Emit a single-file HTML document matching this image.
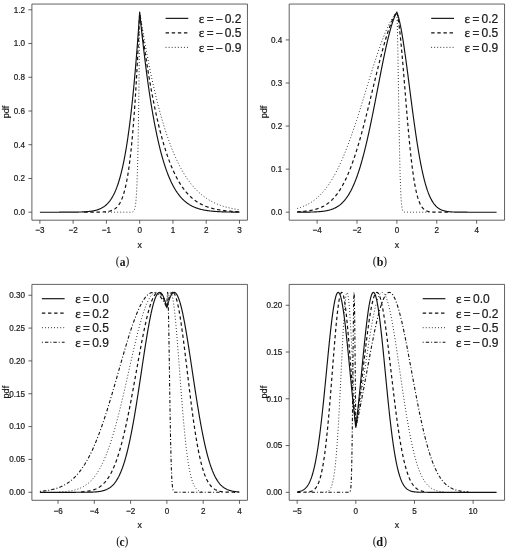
<!DOCTYPE html>
<html lang="en"><head><meta charset="utf-8"><title>Epsilon-skew pdf plots</title>
<style>html,body{margin:0;padding:0;background:#fff}svg{display:block}</style></head>
<body>
<svg width="507" height="550" viewBox="0 0 507 550">
<rect width="507" height="550" fill="#fff"/>
<g>
<path d="M39.88 212.20 L40.33 212.20 L40.79 212.20 L41.24 212.20 L41.69 212.20 L42.15 212.20 L42.60 212.20 L43.06 212.20 L43.51 212.20 L43.96 212.20 L44.42 212.20 L44.87 212.20 L45.32 212.20 L45.78 212.20 L46.23 212.20 L46.68 212.20 L47.14 212.20 L47.59 212.20 L48.05 212.20 L48.50 212.20 L48.95 212.20 L49.41 212.20 L49.86 212.20 L50.31 212.20 L50.77 212.20 L51.22 212.20 L51.67 212.20 L52.13 212.20 L52.58 212.20 L53.03 212.20 L53.49 212.20 L53.94 212.20 L54.40 212.20 L54.85 212.20 L55.30 212.20 L55.76 212.20 L56.21 212.20 L56.51 212.20 L56.66 212.20 L57.12 212.20 L57.21 212.20 L57.57 212.20 L57.90 212.20 L58.02 212.20 L58.48 212.20 L58.59 212.20 L58.93 212.20 L59.28 212.20 L59.39 212.19 L59.84 212.19 L59.98 212.19 L60.29 212.19 L60.67 212.19 L60.75 212.19 L61.20 212.19 L61.36 212.19 L61.65 212.19 L62.06 212.19 L62.11 212.19 L62.56 212.19 L62.75 212.19 L63.01 212.19 L63.44 212.19 L63.47 212.19 L63.92 212.19 L64.14 212.19 L64.38 212.19 L64.83 212.19 L65.28 212.18 L65.52 212.18 L65.74 212.18 L66.19 212.18 L66.21 212.18 L66.64 212.18 L66.91 212.18 L67.10 212.18 L67.55 212.18 L67.60 212.18 L68.00 212.18 L68.29 212.17 L68.46 212.17 L68.91 212.17 L68.99 212.17 L69.36 212.17 L69.68 212.17 L69.82 212.17 L70.27 212.16 L70.37 212.16 L70.73 212.16 L71.07 212.16 L71.18 212.16 L71.63 212.15 L71.76 212.15 L72.09 212.15 L72.45 212.15 L72.54 212.15 L72.99 212.14 L73.14 212.14 L73.45 212.14 L73.84 212.13 L73.90 212.13 L74.35 212.13 L74.53 212.13 L74.81 212.12 L75.22 212.12 L75.26 212.12 L75.72 212.11 L75.92 212.11 L76.17 212.10 L76.61 212.09 L76.62 212.09 L77.08 212.09 L77.30 212.08 L77.53 212.08 L77.98 212.07 L78.00 212.07 L78.44 212.06 L78.69 212.05 L78.89 212.05 L79.34 212.04 L79.38 212.03 L79.80 212.02 L80.08 212.02 L80.25 212.01 L80.71 212.00 L80.77 211.99 L81.16 211.98 L81.46 211.97 L81.61 211.96 L82.07 211.95 L82.15 211.94 L82.52 211.93 L82.85 211.91 L82.97 211.91 L83.43 211.89 L83.54 211.88 L83.88 211.86 L84.23 211.85 L84.33 211.84 L84.79 211.81 L84.93 211.81 L85.24 211.79 L85.62 211.76 L85.69 211.76 L86.15 211.73 L86.31 211.71 L86.45 211.70 L86.60 211.69 L87.01 211.66 L87.06 211.66 L87.51 211.62 L87.70 211.60 L87.96 211.58 L88.39 211.54 L88.42 211.54 L88.87 211.49 L89.08 211.47 L89.32 211.44 L89.78 211.39 L90.23 211.33 L90.47 211.30 L90.68 211.27 L91.14 211.21 L91.16 211.21 L91.59 211.15 L91.86 211.10 L92.05 211.07 L92.50 211.00 L92.55 210.99 L92.95 210.92 L93.24 210.87 L93.41 210.84 L93.86 210.75 L93.94 210.73 L94.31 210.65 L94.63 210.58 L94.77 210.55 L95.22 210.44 L95.32 210.42 L95.67 210.33 L96.01 210.24 L96.13 210.21 L96.58 210.08 L96.71 210.05 L97.04 209.95 L97.40 209.84 L97.49 209.81 L97.94 209.66 L98.09 209.61 L98.40 209.50 L98.79 209.35 L98.85 209.33 L99.30 209.15 L99.48 209.08 L99.76 208.97 L100.17 208.78 L100.21 208.77 L100.66 208.56 L100.87 208.46 L101.12 208.34 L101.56 208.11 L101.57 208.10 L102.03 207.86 L102.25 207.73 L102.48 207.60 L102.93 207.32 L102.94 207.32 L103.39 207.03 L103.64 206.87 L103.84 206.73 L104.29 206.41 L104.33 206.38 L104.75 206.07 L105.02 205.86 L105.20 205.72 L105.65 205.34 L105.72 205.29 L106.11 204.95 L106.41 204.68 L106.56 204.54 L107.01 204.10 L107.10 204.02 L107.47 203.65 L107.80 203.30 L107.92 203.17 L108.38 202.66 L108.49 202.53 L108.83 202.13 L109.18 201.71 L109.28 201.58 L109.74 201.00 L109.88 200.81 L110.19 200.39 L110.57 199.85 L110.64 199.74 L111.10 199.07 L111.26 198.82 L111.55 198.37 L111.95 197.71 L112.00 197.63 L112.46 196.86 L112.65 196.53 L112.91 196.05 L113.34 195.25 L113.37 195.20 L113.82 194.32 L114.03 193.88 L114.27 193.39 L114.73 192.42 L115.18 191.41 L115.42 190.86 L115.63 190.35 L116.09 189.25 L116.11 189.18 L116.54 188.09 L116.81 187.40 L116.99 186.89 L117.45 185.63 L117.50 185.49 L117.90 184.32 L118.19 183.45 L118.36 182.95 L118.81 181.53 L118.88 181.28 L119.26 180.04 L119.58 178.97 L119.72 178.49 L120.17 176.88 L120.27 176.51 L120.62 175.20 L120.96 173.90 L121.08 173.45 L121.53 171.63 L121.66 171.12 L121.98 169.74 L122.35 168.16 L122.44 167.78 L122.89 165.73 L123.04 165.03 L123.18 164.38 L123.32 163.73 L123.34 163.61 L123.46 163.06 L123.60 162.39 L123.74 161.71 L123.80 161.40 L123.87 161.03 L124.01 160.33 L124.15 159.63 L124.25 159.11 L124.29 158.92 L124.43 158.20 L124.57 157.47 L124.71 156.73 L124.84 155.99 L124.98 155.23 L125.12 154.47 L125.16 154.26 L125.26 153.70 L125.40 152.92 L125.54 152.14 L125.61 151.70 L125.68 151.34 L125.81 150.54 L125.95 149.72 L126.07 149.05 L126.09 148.90 L126.23 148.07 L126.37 147.22 L126.51 146.37 L126.52 146.30 L126.65 145.51 L126.78 144.64 L126.92 143.76 L126.97 143.44 L127.06 142.88 L127.20 141.98 L127.34 141.07 L127.43 140.49 L127.48 140.15 L127.62 139.23 L127.76 138.29 L127.88 137.43 L127.89 137.34 L128.03 136.38 L128.17 135.42 L128.31 134.44 L128.33 134.26 L128.45 133.45 L128.59 132.45 L128.73 131.44 L128.79 130.98 L128.86 130.42 L129.00 129.39 L129.14 128.35 L129.24 127.59 L129.28 127.30 L129.42 126.24 L129.56 125.16 L129.70 124.08 L129.83 122.98 L129.97 121.88 L130.11 120.76 L130.15 120.45 L130.25 119.63 L130.39 118.49 L130.53 117.34 L130.60 116.70 L130.67 116.17 L130.80 115.00 L130.94 113.81 L131.06 112.83 L131.08 112.61 L131.22 111.40 L131.36 110.18 L131.50 108.94 L131.51 108.83 L131.64 107.70 L131.77 106.44 L131.91 105.17 L131.96 104.70 L132.05 103.88 L132.19 102.59 L132.33 101.28 L132.42 100.44 L132.47 99.96 L132.61 98.62 L132.74 97.28 L132.87 96.04 L132.88 95.92 L133.02 94.54 L133.16 93.16 L133.30 91.76 L133.32 91.50 L133.44 90.35 L133.58 88.92 L133.72 87.49 L133.78 86.83 L133.85 86.03 L133.99 84.57 L134.13 83.09 L134.23 82.01 L134.27 81.60 L134.41 80.09 L134.55 78.58 L134.69 77.04 L134.82 75.50 L134.96 73.94 L135.10 72.36 L135.14 71.93 L135.24 70.77 L135.38 69.17 L135.52 67.55 L135.59 66.66 L135.66 65.92 L135.79 64.27 L135.93 62.61 L136.05 61.24 L136.07 60.94 L136.21 59.25 L136.35 57.54 L136.49 55.82 L136.50 55.67 L136.63 54.09 L136.76 52.34 L136.90 50.58 L136.95 49.93 L137.04 48.80 L137.18 47.01 L137.32 45.20 L137.41 44.04 L137.46 43.37 L137.60 41.53 L137.73 39.68 L137.86 37.98 L137.87 37.81 L138.01 35.92 L138.15 34.02 L138.29 32.10 L138.31 31.75 L138.43 30.17 L138.57 28.22 L138.70 26.26 L138.77 25.36 L138.84 24.28 L138.98 22.28 L139.12 20.27 L139.22 18.80 L139.26 18.24 L139.40 16.20 L139.54 14.14 L139.68 12.06 L140.13 16.57 L140.58 21.00 L141.04 25.36 L141.49 29.64 L141.94 33.85 L142.40 37.98 L142.85 42.04 L143.30 46.02 L143.76 49.93 L144.21 53.77 L144.66 57.54 L145.12 61.24 L145.57 64.87 L146.03 68.43 L146.48 71.93 L146.93 75.35 L147.39 78.71 L147.84 82.01 L148.29 85.24 L148.75 88.40 L149.20 91.50 L149.65 94.54 L150.11 97.52 L150.56 100.44 L151.02 103.29 L151.47 106.09 L151.92 108.83 L152.38 111.51 L152.83 114.14 L153.28 116.70 L153.74 119.22 L154.19 121.67 L154.64 124.08 L155.10 126.43 L155.55 128.73 L156.01 130.98 L156.46 133.18 L156.91 135.33 L157.37 137.43 L157.82 139.48 L158.27 141.48 L158.73 143.44 L159.18 145.36 L159.63 147.22 L160.09 149.05 L160.54 150.83 L160.99 152.57 L161.45 154.26 L161.90 155.92 L162.36 157.53 L162.81 159.11 L163.26 160.65 L163.72 162.15 L164.17 163.61 L164.62 165.03 L165.08 166.42 L165.53 167.78 L165.98 169.10 L166.44 170.38 L166.89 171.63 L167.35 172.85 L167.80 174.04 L168.25 175.20 L168.71 176.33 L169.16 177.42 L169.61 178.49 L170.07 179.53 L170.52 180.54 L170.97 181.53 L171.43 182.48 L171.88 183.41 L172.34 184.32 L172.79 185.20 L173.24 186.06 L173.70 186.89 L174.15 187.70 L174.60 188.48 L175.06 189.25 L175.51 189.99 L175.96 190.71 L176.42 191.41 L176.87 192.09 L177.32 192.75 L177.78 193.39 L178.23 194.01 L178.69 194.62 L179.14 195.20 L179.59 195.77 L180.05 196.32 L180.50 196.86 L180.95 197.38 L181.41 197.88 L181.86 198.37 L182.31 198.84 L182.77 199.30 L183.22 199.74 L183.68 200.18 L184.13 200.59 L184.58 201.00 L185.04 201.39 L185.49 201.77 L185.94 202.13 L186.40 202.49 L186.85 202.83 L187.30 203.17 L187.76 203.49 L188.21 203.80 L188.67 204.10 L189.12 204.40 L189.57 204.68 L190.03 204.95 L190.48 205.22 L190.93 205.47 L191.39 205.72 L191.84 205.96 L192.29 206.19 L192.75 206.41 L193.20 206.63 L193.66 206.83 L194.11 207.03 L194.56 207.23 L195.02 207.42 L195.47 207.60 L195.92 207.77 L196.38 207.94 L196.83 208.10 L197.28 208.26 L197.74 208.41 L198.19 208.56 L198.64 208.70 L199.10 208.83 L199.55 208.97 L200.01 209.09 L200.46 209.21 L200.91 209.33 L201.37 209.44 L201.82 209.55 L202.27 209.66 L202.73 209.76 L203.18 209.86 L203.63 209.95 L204.09 210.04 L204.54 210.13 L205.00 210.21 L205.45 210.29 L205.90 210.37 L206.36 210.44 L206.81 210.52 L207.26 210.59 L207.72 210.65 L208.17 210.72 L208.62 210.78 L209.08 210.84 L209.53 210.89 L209.99 210.95 L210.44 211.00 L210.89 211.05 L211.35 211.10 L211.80 211.15 L212.25 211.19 L212.71 211.23 L213.16 211.27 L213.61 211.31 L214.07 211.35 L214.52 211.39 L214.97 211.42 L215.43 211.46 L215.88 211.49 L216.34 211.52 L216.79 211.55 L217.24 211.58 L217.70 211.61 L218.15 211.63 L218.60 211.66 L219.06 211.68 L219.51 211.70 L219.96 211.73 L220.42 211.75 L220.87 211.77 L221.33 211.79 L221.78 211.81 L222.23 211.82 L222.69 211.84 L223.14 211.86 L223.59 211.87 L224.05 211.89 L224.50 211.90 L224.95 211.92 L225.41 211.93 L225.86 211.94 L226.32 211.95 L226.77 211.96 L227.22 211.98 L227.68 211.99 L228.13 212.00 L228.58 212.01 L229.04 212.01 L229.49 212.02 L229.94 212.03 L230.40 212.04 L230.85 212.05 L231.30 212.05 L231.76 212.06 L232.21 212.07 L232.67 212.07 L233.12 212.08 L233.57 212.09 L234.03 212.09 L234.48 212.10 L234.93 212.10 L235.39 212.11 L235.84 212.11 L236.29 212.12 L236.75 212.12 L237.20 212.12 L237.66 212.13 L238.11 212.13 L238.56 212.13 L239.02 212.14 L239.47 212.14" fill="none" stroke="#111" stroke-width="1.15" stroke-linejoin="round" stroke-linecap="butt"/>
<path d="M84.23 212.20 L84.33 212.20 L84.79 212.20 L84.93 212.20 L85.24 212.20 L85.62 212.20 L85.69 212.20 L86.15 212.20 L86.31 212.20 L86.45 212.20 L86.60 212.20 L87.01 212.20 L87.06 212.20 L87.51 212.20 L87.70 212.20 L87.96 212.20 L88.39 212.20 L88.42 212.20 L88.87 212.20 L89.08 212.20 L89.32 212.20 L89.78 212.19 L90.23 212.19 L90.47 212.19 L90.68 212.19 L91.14 212.19 L91.16 212.19 L91.59 212.19 L91.86 212.19 L92.05 212.19 L92.50 212.19 L92.55 212.19 L92.95 212.19 L93.24 212.18 L93.41 212.18 L93.86 212.18 L93.94 212.18 L94.31 212.18 L94.63 212.18 L94.77 212.18 L95.22 212.17 L95.32 212.17 L95.67 212.17 L96.01 212.17 L96.13 212.17 L96.58 212.16 L96.71 212.16 L97.04 212.16 L97.40 212.15 L97.49 212.15 L97.94 212.14 L98.09 212.14 L98.40 212.14 L98.79 212.13 L98.85 212.13 L99.30 212.12 L99.48 212.11 L99.76 212.11 L100.17 212.10 L100.21 212.10 L100.66 212.08 L100.87 212.08 L101.12 212.07 L101.56 212.05 L101.57 212.05 L102.03 212.03 L102.25 212.02 L102.48 212.01 L102.93 211.99 L102.94 211.99 L103.39 211.96 L103.64 211.95 L103.84 211.94 L104.29 211.90 L104.33 211.90 L104.75 211.87 L105.02 211.85 L105.20 211.83 L105.65 211.79 L105.72 211.78 L106.11 211.74 L106.41 211.70 L106.56 211.69 L107.01 211.63 L107.10 211.61 L107.47 211.56 L107.80 211.51 L107.92 211.49 L108.38 211.41 L108.49 211.39 L108.83 211.32 L109.18 211.25 L109.28 211.22 L109.74 211.12 L109.88 211.08 L110.19 211.00 L110.57 210.89 L110.64 210.87 L111.10 210.73 L111.26 210.67 L111.55 210.57 L111.95 210.42 L112.00 210.40 L112.46 210.21 L112.65 210.13 L112.91 210.00 L113.34 209.79 L113.37 209.78 L113.82 209.53 L114.03 209.41 L114.27 209.26 L114.73 208.97 L115.18 208.64 L115.42 208.46 L115.63 208.29 L116.09 207.91 L116.11 207.88 L116.54 207.49 L116.81 207.23 L116.99 207.03 L117.45 206.54 L117.50 206.48 L117.90 206.00 L118.19 205.64 L118.36 205.42 L118.81 204.79 L118.88 204.68 L119.26 204.10 L119.58 203.60 L119.72 203.36 L120.17 202.56 L120.27 202.37 L120.62 201.69 L120.96 201.00 L121.08 200.76 L121.53 199.74 L121.66 199.45 L121.98 198.65 L122.35 197.71 L122.44 197.48 L122.89 196.21 L123.04 195.77 L123.18 195.36 L123.32 194.93 L123.34 194.85 L123.46 194.50 L123.60 194.05 L123.74 193.60 L123.80 193.39 L123.87 193.14 L124.01 192.66 L124.15 192.18 L124.25 191.82 L124.29 191.68 L124.43 191.18 L124.57 190.66 L124.71 190.13 L124.84 189.60 L124.98 189.05 L125.12 188.48 L125.16 188.33 L125.26 187.91 L125.40 187.32 L125.54 186.72 L125.61 186.39 L125.68 186.11 L125.81 185.49 L125.95 184.85 L126.07 184.32 L126.09 184.20 L126.23 183.54 L126.37 182.86 L126.51 182.17 L126.52 182.10 L126.65 181.46 L126.78 180.74 L126.92 180.01 L126.97 179.73 L127.06 179.26 L127.20 178.49 L127.34 177.71 L127.43 177.21 L127.48 176.91 L127.62 176.10 L127.76 175.28 L127.88 174.51 L127.89 174.43 L128.03 173.57 L128.17 172.69 L128.31 171.80 L128.33 171.63 L128.45 170.89 L128.59 169.96 L128.73 169.01 L128.79 168.57 L128.86 168.04 L129.00 167.06 L129.14 166.05 L129.24 165.31 L129.28 165.03 L129.42 163.99 L129.56 162.93 L129.70 161.85 L129.83 160.75 L129.97 159.63 L130.11 158.48 L130.15 158.17 L130.25 157.32 L130.39 156.14 L130.53 154.93 L130.60 154.26 L130.67 153.70 L130.80 152.45 L130.94 151.18 L131.06 150.12 L131.08 149.88 L131.22 148.57 L131.36 147.22 L131.50 145.86 L131.51 145.73 L131.64 144.47 L131.77 143.06 L131.91 141.62 L131.96 141.09 L132.05 140.15 L132.19 138.66 L132.33 137.15 L132.42 136.17 L132.47 135.61 L132.61 134.04 L132.74 132.45 L132.87 130.98 L132.88 130.83 L133.02 129.19 L133.16 127.51 L133.30 125.81 L133.32 125.50 L133.44 124.08 L133.58 122.32 L133.72 120.53 L133.78 119.71 L133.85 118.72 L133.99 116.87 L134.13 115.00 L134.23 113.61 L134.27 113.09 L134.41 111.16 L134.55 109.19 L134.69 107.19 L134.82 105.17 L134.96 103.11 L135.10 101.01 L135.14 100.44 L135.24 98.89 L135.38 96.73 L135.52 94.54 L135.59 93.34 L135.66 92.32 L135.79 90.07 L135.93 87.77 L136.05 85.88 L136.07 85.45 L136.21 83.09 L136.35 80.70 L136.49 78.27 L136.50 78.05 L136.63 75.81 L136.76 73.31 L136.90 70.77 L136.95 69.84 L137.04 68.20 L137.18 65.59 L137.32 62.95 L137.41 61.24 L137.46 60.26 L137.60 57.54 L137.73 54.79 L137.86 52.25 L137.87 51.99 L138.01 49.16 L138.15 46.28 L138.29 43.37 L138.31 42.84 L138.43 40.42 L138.57 37.43 L138.70 34.40 L138.77 33.01 L138.84 31.33 L138.98 28.22 L139.12 25.07 L139.22 22.75 L139.26 21.88 L139.40 18.65 L139.54 15.38 M140.13 15.67 L140.58 19.24 L141.04 22.75 L141.49 26.22 L141.94 29.64 L142.40 33.01 L142.85 36.33 L143.30 39.61 L143.76 42.84 L144.21 46.02 L144.66 49.16 L145.12 52.25 L145.57 55.29 L146.03 58.29 L146.48 61.24 L146.93 64.15 L147.39 67.02 L147.84 69.84 L148.29 72.62 L148.75 75.35 L149.20 78.05 L149.65 80.70 L150.11 83.31 L150.56 85.88 L151.02 88.40 L151.47 90.89 L151.92 93.34 L152.38 95.74 L152.83 98.11 L153.28 100.44 L153.74 102.73 L154.19 104.98 L154.64 107.19 L155.10 109.37 L155.55 111.51 L156.01 113.62 L156.46 115.68 L156.91 117.72 L157.37 119.71 L157.82 121.67 L158.27 123.60 L158.73 125.50 L159.18 127.36 L159.63 129.19 L160.09 130.98 L160.54 132.74 L160.99 134.47 L161.45 136.17 L161.90 137.84 L162.36 139.48 L162.81 141.09 L163.26 142.67 L163.72 144.21 L164.17 145.73 L164.62 147.22 L165.08 148.69 L165.53 150.12 L165.98 151.53 L166.44 152.91 L166.89 154.26 L167.35 155.59 L167.80 156.89 L168.25 158.17 L168.71 159.42 L169.16 160.65 L169.61 161.85 L170.07 163.03 L170.52 164.18 L170.97 165.31 L171.43 166.42 L171.88 167.51 L172.34 168.57 L172.79 169.61 L173.24 170.63 L173.70 171.63 L174.15 172.61 L174.60 173.57 L175.06 174.51 L175.51 175.43 L175.96 176.33 L176.42 177.21 L176.87 178.07 L177.32 178.91 L177.78 179.73 L178.23 180.54 L178.69 181.33 L179.14 182.10 L179.59 182.86 L180.05 183.60 L180.50 184.32 L180.95 185.03 L181.41 185.72 L181.86 186.39 L182.31 187.05 L182.77 187.70 L183.22 188.33 L183.68 188.94 L184.13 189.55 L184.58 190.13 L185.04 190.71 L185.49 191.27 L185.94 191.82 L186.40 192.36 L186.85 192.88 L187.30 193.39 L187.76 193.89 L188.21 194.38 L188.67 194.85 L189.12 195.32 L189.57 195.77 L190.03 196.21 L190.48 196.65 L190.93 197.07 L191.39 197.48 L191.84 197.88 L192.29 198.27 L192.75 198.65 L193.20 199.03 L193.66 199.39 L194.11 199.74 L194.56 200.09 L195.02 200.43 L195.47 200.76 L195.92 201.08 L196.38 201.39 L196.83 201.69 L197.28 201.99 L197.74 202.28 L198.19 202.56 L198.64 202.83 L199.10 203.10 L199.55 203.36 L200.01 203.62 L200.46 203.86 L200.91 204.10 L201.37 204.34 L201.82 204.57 L202.27 204.79 L202.73 205.01 L203.18 205.22 L203.63 205.42 L204.09 205.62 L204.54 205.81 L205.00 206.00 L205.45 206.19 L205.90 206.37 L206.36 206.54 L206.81 206.71 L207.26 206.87 L207.72 207.03 L208.17 207.19 L208.62 207.34 L209.08 207.49 L209.53 207.63 L209.99 207.77 L210.44 207.91 L210.89 208.04 L211.35 208.17 L211.80 208.29 L212.25 208.41 L212.71 208.53 L213.16 208.64 L213.61 208.75 L214.07 208.86 L214.52 208.97 L214.97 209.07 L215.43 209.16 L215.88 209.26 L216.34 209.35 L216.79 209.44 L217.24 209.53 L217.70 209.62 L218.15 209.70 L218.60 209.78 L219.06 209.86 L219.51 209.93 L219.96 210.00 L220.42 210.08 L220.87 210.14 L221.33 210.21 L221.78 210.28 L222.23 210.34 L222.69 210.40 L223.14 210.46 L223.59 210.52 L224.05 210.57 L224.50 210.63 L224.95 210.68 L225.41 210.73 L225.86 210.78 L226.32 210.82 L226.77 210.87 L227.22 210.92 L227.68 210.96 L228.13 211.00 L228.58 211.04 L229.04 211.08 L229.49 211.12 L229.94 211.15 L230.40 211.19 L230.85 211.22 L231.30 211.26 L231.76 211.29 L232.21 211.32 L232.67 211.35 L233.12 211.38 L233.57 211.41 L234.03 211.44 L234.48 211.46 L234.93 211.49 L235.39 211.51 L235.84 211.54 L236.29 211.56 L236.75 211.58 L237.20 211.61 L237.66 211.63 L238.11 211.65 L238.56 211.67 L239.02 211.69 L239.47 211.70" fill="none" stroke="#111" stroke-width="1.20" stroke-linejoin="round" stroke-linecap="butt" stroke-dasharray="3.400 2.720"/>
<path d="M105.02 212.20 L105.20 212.20 L105.65 212.20 L105.72 212.20 L106.11 212.20 L106.41 212.20 L106.56 212.20 L107.01 212.20 L107.10 212.20 L107.47 212.20 L107.80 212.20 L107.92 212.20 L108.38 212.20 L108.49 212.20 L108.83 212.20 L109.18 212.20 L109.28 212.20 L109.74 212.20 L109.88 212.20 L110.19 212.20 L110.57 212.20 L110.64 212.20 L111.10 212.20 L111.26 212.20 L111.55 212.20 L111.95 212.20 L112.00 212.20 L112.46 212.20 L112.65 212.20 L112.91 212.20 L113.34 212.20 L113.37 212.20 L113.82 212.20 L114.03 212.20 L114.27 212.20 L114.73 212.20 L115.18 212.20 L115.42 212.20 L115.63 212.20 L116.09 212.20 L116.11 212.20 L116.54 212.20 L116.81 212.20 L116.99 212.20 L117.45 212.20 L117.50 212.20 L117.90 212.20 L118.19 212.20 L118.36 212.20 L118.81 212.20 L118.88 212.20 L119.26 212.20 L119.58 212.20 L119.72 212.20 L120.17 212.20 L120.27 212.20 L120.62 212.20 L120.96 212.20 L121.08 212.20 L121.53 212.20 L121.66 212.20 L121.98 212.20 L122.35 212.20 L122.44 212.20 L122.89 212.20 L123.04 212.20 L123.18 212.20 L123.32 212.20 L123.34 212.20 L123.46 212.20 L123.60 212.20 L123.74 212.20 L123.80 212.20 L123.87 212.20 L124.01 212.20 L124.15 212.20 L124.25 212.20 L124.29 212.20 L124.43 212.20 L124.57 212.20 L124.71 212.20 L124.84 212.20 L124.98 212.20 L125.12 212.20 L125.16 212.20 L125.26 212.20 L125.40 212.20 L125.54 212.20 L125.61 212.20 L125.68 212.20 L125.81 212.20 L125.95 212.20 L126.07 212.20 L126.09 212.20 L126.23 212.20 L126.37 212.20 L126.51 212.20 L126.52 212.20 L126.65 212.20 L126.78 212.20 L126.92 212.20 L126.97 212.20 L127.06 212.20 L127.20 212.20 L127.34 212.20 L127.43 212.20 L127.48 212.20 L127.62 212.20 L127.76 212.20 L127.88 212.20 L127.89 212.20 L128.03 212.20 L128.17 212.20 L128.31 212.20 L128.33 212.20 L128.45 212.20 L128.59 212.20 L128.73 212.20 L128.79 212.20 L128.86 212.20 L129.00 212.20 L129.14 212.20 L129.24 212.20 L129.28 212.20 L129.42 212.20 L129.56 212.20 L129.70 212.19 L129.83 212.19 L129.97 212.19 L130.11 212.19 L130.15 212.19 L130.25 212.19 L130.39 212.18 L130.53 212.18 L130.60 212.18 L130.67 212.18 L130.80 212.17 L130.94 212.17 L131.06 212.16 L131.08 212.16 L131.22 212.15 L131.36 212.14 L131.50 212.13 L131.51 212.13 L131.64 212.11 L131.77 212.10 L131.91 212.08 L131.96 212.07 L132.05 212.05 L132.19 212.02 L132.33 211.99 L132.42 211.96 L132.47 211.95 L132.61 211.90 L132.74 211.85 L132.87 211.79 L132.88 211.78 L133.02 211.70 L133.16 211.61 L133.30 211.51 L133.32 211.49 L133.44 211.39 L133.58 211.25 L133.72 211.08 L133.78 211.00 L133.85 210.89 L133.99 210.67 L134.13 210.42 L134.23 210.21 L134.27 210.13 L134.41 209.79 L134.55 209.41 L134.69 208.97 L134.82 208.46 L134.96 207.88 L135.10 207.23 L135.14 207.03 L135.24 206.48 L135.38 205.64 L135.52 204.68 L135.59 204.10 L135.66 203.60 L135.79 202.37 L135.93 201.00 L136.05 199.74 L136.07 199.45 L136.21 197.71 L136.35 195.77 L136.49 193.60 L136.50 193.39 L136.63 191.18 L136.76 188.48 L136.90 185.49 L136.95 184.32 L137.04 182.17 L137.18 178.49 L137.32 174.43 L137.41 171.63 L137.46 169.96 L137.60 165.03 L137.73 159.63 L137.86 154.26 L137.87 153.70 L138.01 147.22 L138.15 140.15 L138.29 132.45 L138.31 130.98 L138.43 124.08 L138.57 115.00 L138.70 105.17 L138.77 100.44 L138.84 94.54 L138.98 83.09 L139.12 70.77 L139.22 61.24 L139.26 57.54 L139.40 43.37 L139.54 28.22 M140.13 14.92 L140.58 17.74 L141.04 20.54 L141.49 23.31 L141.94 26.04 L142.40 28.75 L142.85 31.42 L143.30 34.07 L143.76 36.68 L144.21 39.27 L144.66 41.82 L145.12 44.35 L145.57 46.85 L146.03 49.32 L146.48 51.76 L146.93 54.17 L147.39 56.56 L147.84 58.92 L148.29 61.24 L148.75 63.54 L149.20 65.82 L149.65 68.06 L150.11 70.28 L150.56 72.47 L151.02 74.64 L151.47 76.78 L151.92 78.89 L152.38 80.98 L152.83 83.04 L153.28 85.07 L153.74 87.08 L154.19 89.06 L154.64 91.02 L155.10 92.95 L155.55 94.86 L156.01 96.74 L156.46 98.60 L156.91 100.44 L157.37 102.25 L157.82 104.04 L158.27 105.80 L158.73 107.54 L159.18 109.26 L159.63 110.95 L160.09 112.62 L160.54 114.27 L160.99 115.90 L161.45 117.50 L161.90 119.09 L162.36 120.65 L162.81 122.19 L163.26 123.70 L163.72 125.20 L164.17 126.68 L164.62 128.13 L165.08 129.57 L165.53 130.98 L165.98 132.37 L166.44 133.75 L166.89 135.10 L167.35 136.44 L167.80 137.75 L168.25 139.05 L168.71 140.33 L169.16 141.59 L169.61 142.83 L170.07 144.05 L170.52 145.26 L170.97 146.44 L171.43 147.61 L171.88 148.76 L172.34 149.90 L172.79 151.01 L173.24 152.11 L173.70 153.20 L174.15 154.26 L174.60 155.31 L175.06 156.35 L175.51 157.37 L175.96 158.37 L176.42 159.36 L176.87 160.33 L177.32 161.28 L177.78 162.22 L178.23 163.15 L178.69 164.06 L179.14 164.96 L179.59 165.84 L180.05 166.71 L180.50 167.56 L180.95 168.40 L181.41 169.23 L181.86 170.05 L182.31 170.85 L182.77 171.63 L183.22 172.41 L183.68 173.17 L184.13 173.92 L184.58 174.65 L185.04 175.38 L185.49 176.09 L185.94 176.79 L186.40 177.48 L186.85 178.16 L187.30 178.82 L187.76 179.48 L188.21 180.12 L188.67 180.75 L189.12 181.37 L189.57 181.98 L190.03 182.58 L190.48 183.17 L190.93 183.75 L191.39 184.32 L191.84 184.88 L192.29 185.43 L192.75 185.97 L193.20 186.50 L193.66 187.02 L194.11 187.53 L194.56 188.03 L195.02 188.52 L195.47 189.01 L195.92 189.48 L196.38 189.95 L196.83 190.41 L197.28 190.86 L197.74 191.30 L198.19 191.73 L198.64 192.16 L199.10 192.58 L199.55 192.99 L200.01 193.39 L200.46 193.79 L200.91 194.17 L201.37 194.55 L201.82 194.93 L202.27 195.29 L202.73 195.65 L203.18 196.01 L203.63 196.35 L204.09 196.69 L204.54 197.02 L205.00 197.35 L205.45 197.67 L205.90 197.98 L206.36 198.29 L206.81 198.59 L207.26 198.89 L207.72 199.18 L208.17 199.47 L208.62 199.74 L209.08 200.02 L209.53 200.29 L209.99 200.55 L210.44 200.81 L210.89 201.06 L211.35 201.31 L211.80 201.55 L212.25 201.79 L212.71 202.02 L213.16 202.25 L213.61 202.47 L214.07 202.69 L214.52 202.91 L214.97 203.12 L215.43 203.32 L215.88 203.52 L216.34 203.72 L216.79 203.91 L217.24 204.10 L217.70 204.29 L218.15 204.47 L218.60 204.65 L219.06 204.82 L219.51 204.99 L219.96 205.16 L220.42 205.32 L220.87 205.48 L221.33 205.64 L221.78 205.79 L222.23 205.94 L222.69 206.09 L223.14 206.23 L223.59 206.38 L224.05 206.51 L224.50 206.65 L224.95 206.78 L225.41 206.91 L225.86 207.03 L226.32 207.16 L226.77 207.28 L227.22 207.40 L227.68 207.51 L228.13 207.62 L228.58 207.74 L229.04 207.84 L229.49 207.95 L229.94 208.05 L230.40 208.15 L230.85 208.25 L231.30 208.35 L231.76 208.44 L232.21 208.53 L232.67 208.62 L233.12 208.71 L233.57 208.80 L234.03 208.88 L234.48 208.97 L234.93 209.05 L235.39 209.12 L235.84 209.20 L236.29 209.28 L236.75 209.35 L237.20 209.42 L237.66 209.49 L238.11 209.56 L238.56 209.62 L239.02 209.69 L239.47 209.75" fill="none" stroke="#111" stroke-width="1.00" stroke-linejoin="round" stroke-linecap="butt" stroke-dasharray="0.850 2.210"/>
<rect x="31.90" y="4.06" width="215.55" height="216.14" fill="none" stroke="#3a3a3a" stroke-width="0.80" stroke-linejoin="round"/>
<path d="M39.88 220.20 v3.50 M73.14 220.20 v3.50 M106.41 220.20 v3.50 M139.68 220.20 v3.50 M172.94 220.20 v3.50 M206.20 220.20 v3.50 M239.47 220.20 v3.50 M31.90 212.20 h-3.50 M31.90 178.47 h-3.50 M31.90 144.73 h-3.50 M31.90 111.00 h-3.50 M31.90 77.27 h-3.50 M31.90 43.53 h-3.50 M31.90 9.80 h-3.50" stroke="#3a3a3a" stroke-width="0.80" fill="none"/>
<g font-family="'Liberation Sans', Arial, sans-serif" font-size="8.10" fill="#1a1a1a" stroke="#1a1a1a" stroke-width="0.2">
<text transform="translate(39.88 233.45) scale(1 1.1)" text-anchor="middle">−3</text>
<text transform="translate(73.14 233.45) scale(1 1.1)" text-anchor="middle">−2</text>
<text transform="translate(106.41 233.45) scale(1 1.1)" text-anchor="middle">−1</text>
<text transform="translate(139.68 233.45) scale(1 1.1)" text-anchor="middle">0</text>
<text transform="translate(172.94 233.45) scale(1 1.1)" text-anchor="middle">1</text>
<text transform="translate(206.20 233.45) scale(1 1.1)" text-anchor="middle">2</text>
<text transform="translate(239.47 233.45) scale(1 1.1)" text-anchor="middle">3</text>
<text transform="translate(24.90 215.05) scale(1 1.1)" text-anchor="end">0.0</text>
<text transform="translate(24.90 181.32) scale(1 1.1)" text-anchor="end">0.2</text>
<text transform="translate(24.90 147.58) scale(1 1.1)" text-anchor="end">0.4</text>
<text transform="translate(24.90 113.85) scale(1 1.1)" text-anchor="end">0.6</text>
<text transform="translate(24.90 80.12) scale(1 1.1)" text-anchor="end">0.8</text>
<text transform="translate(24.90 46.38) scale(1 1.1)" text-anchor="end">1.0</text>
<text transform="translate(24.90 12.65) scale(1 1.1)" text-anchor="end">1.2</text>
<text x="139.67" y="247.60" text-anchor="middle" font-size="8.8">x</text>
<text transform="translate(9.20 111.93) rotate(-90)" text-anchor="middle" font-size="9.1">pdf</text>
</g>
<path d="M165.60 18.36 H188.30" stroke="#111" stroke-width="1.15" fill="none"/>
<text font-family="'Liberation Sans', Arial, sans-serif" font-size="12" fill="#1a1a1a" stroke="#1a1a1a" stroke-width="0.22"><tspan x="198.80" y="22.76" font-family="'Liberation Serif', 'DejaVu Serif', serif" font-size="13" stroke-width="0.3">ε</tspan> <tspan x="206.40" y="22.91" font-size="10.4" textLength="7.3" lengthAdjust="spacingAndGlyphs" stroke="none" fill="#2a2a2a">=</tspan> <tspan x="215.40" y="23.56" font-size="13.5" stroke="none" fill="#2a2a2a">−</tspan><tspan x="224.70" y="22.66">0.2</tspan></text>
<path d="M165.60 32.86 H188.30" stroke="#111" stroke-width="1.20" fill="none" stroke-dasharray="3.400 2.720"/>
<text font-family="'Liberation Sans', Arial, sans-serif" font-size="12" fill="#1a1a1a" stroke="#1a1a1a" stroke-width="0.22"><tspan x="198.80" y="37.26" font-family="'Liberation Serif', 'DejaVu Serif', serif" font-size="13" stroke-width="0.3">ε</tspan> <tspan x="206.40" y="37.41" font-size="10.4" textLength="7.3" lengthAdjust="spacingAndGlyphs" stroke="none" fill="#2a2a2a">=</tspan> <tspan x="215.40" y="38.06" font-size="13.5" stroke="none" fill="#2a2a2a">−</tspan><tspan x="224.70" y="37.16">0.5</tspan></text>
<path d="M165.60 47.36 H188.30" stroke="#111" stroke-width="1.00" fill="none" stroke-dasharray="0.850 2.210"/>
<text font-family="'Liberation Sans', Arial, sans-serif" font-size="12" fill="#1a1a1a" stroke="#1a1a1a" stroke-width="0.22"><tspan x="198.80" y="51.76" font-family="'Liberation Serif', 'DejaVu Serif', serif" font-size="13" stroke-width="0.3">ε</tspan> <tspan x="206.40" y="51.91" font-size="10.4" textLength="7.3" lengthAdjust="spacingAndGlyphs" stroke="none" fill="#2a2a2a">=</tspan> <tspan x="215.40" y="52.56" font-size="13.5" stroke="none" fill="#2a2a2a">−</tspan><tspan x="224.70" y="51.66">0.9</tspan></text>
<text font-family="'Liberation Serif', serif" fill="#111" font-size="11.5"><tspan x="115.80" y="265.00">(</tspan><tspan x="119.65" y="265.50" font-size="11.5" font-weight="bold">a</tspan><tspan x="129.25" y="265.00" text-anchor="end">)</tspan></text>
</g>
<g>
<path d="M297.18 212.19 L297.63 212.18 L298.09 212.18 L298.54 212.18 L298.99 212.18 L299.45 212.18 L299.90 212.18 L300.35 212.17 L300.81 212.17 L301.26 212.17 L301.71 212.17 L302.16 212.16 L302.62 212.16 L303.07 212.16 L303.52 212.15 L303.98 212.15 L304.43 212.15 L304.88 212.14 L305.34 212.14 L305.79 212.13 L306.24 212.13 L306.70 212.12 L307.15 212.12 L307.60 212.11 L308.06 212.10 L308.51 212.10 L308.96 212.09 L309.42 212.08 L309.87 212.07 L310.32 212.06 L310.77 212.05 L311.23 212.04 L311.68 212.03 L312.13 212.01 L312.59 212.00 L313.04 211.99 L313.49 211.97 L313.95 211.95 L314.40 211.94 L314.85 211.92 L315.31 211.90 L315.76 211.88 L316.21 211.85 L316.67 211.83 L317.12 211.80 L317.57 211.78 L318.03 211.75 L318.48 211.72 L318.93 211.68 L319.38 211.65 L319.84 211.61 L320.29 211.57 L320.74 211.53 L321.20 211.48 L321.65 211.44 L322.10 211.39 L322.56 211.34 L323.01 211.28 L323.46 211.22 L323.92 211.16 L324.37 211.09 L324.82 211.02 L325.28 210.95 L325.73 210.87 L326.18 210.79 L326.64 210.70 L327.09 210.61 L327.54 210.52 L327.99 210.41 L328.45 210.31 L328.90 210.20 L329.35 210.08 L329.81 209.95 L330.26 209.82 L330.71 209.68 L331.17 209.54 L331.62 209.39 L332.07 209.23 L332.53 209.06 L332.98 208.88 L333.43 208.70 L333.89 208.50 L334.34 208.30 L334.79 208.09 L335.25 207.87 L335.70 207.63 L336.15 207.39 L336.60 207.13 L337.06 206.87 L337.51 206.59 L337.96 206.30 L338.42 205.99 L338.87 205.67 L339.32 205.34 L339.78 205.00 L340.23 204.64 L340.68 204.26 L341.14 203.87 L341.59 203.46 L342.04 203.04 L342.50 202.60 L342.95 202.14 L343.40 201.66 L343.86 201.17 L344.31 200.65 L344.76 200.12 L345.21 199.57 L345.67 198.99 L346.12 198.40 L346.57 197.78 L347.03 197.14 L347.48 196.47 L347.93 195.79 L348.39 195.08 L348.84 194.34 L349.29 193.59 L349.75 192.80 L350.20 191.99 L350.65 191.15 L351.11 190.29 L351.56 189.40 L352.01 188.48 L352.47 187.54 L352.92 186.56 L353.37 185.56 L353.82 184.52 L354.28 183.46 L354.73 182.37 L355.18 181.25 L355.64 180.09 L356.09 178.91 L356.54 177.69 L357.00 176.44 L357.45 175.16 L357.90 173.85 L358.36 172.50 L358.81 171.13 L359.26 169.72 L359.72 168.28 L360.17 166.80 L360.62 165.29 L361.08 163.75 L361.53 162.18 L361.98 160.58 L362.43 158.94 L362.89 157.27 L363.34 155.57 L363.79 153.83 L364.25 152.07 L364.70 150.27 L365.15 148.44 L365.61 146.59 L366.06 144.70 L366.51 142.78 L366.97 140.84 L367.42 138.86 L367.87 136.86 L368.33 134.83 L368.78 132.78 L369.23 130.70 L369.69 128.60 L370.14 126.47 L370.59 124.32 L371.04 122.15 L371.50 119.95 L371.95 117.74 L372.40 115.51 L372.86 113.26 L373.31 111.00 L373.76 108.72 L374.22 106.43 L374.67 104.13 L375.12 101.81 L375.58 99.49 L376.03 97.16 L376.48 94.82 L376.94 92.48 L377.39 90.14 L377.84 87.79 L378.30 85.45 L378.75 83.11 L379.20 80.77 L379.65 78.43 L380.11 76.11 L380.56 73.79 L381.01 71.48 L381.47 69.19 L381.92 66.91 L382.37 64.65 L382.83 62.41 L383.28 60.19 L383.73 57.99 L384.19 55.81 L384.64 53.66 L385.09 51.54 L385.55 49.45 L386.00 47.39 L386.45 45.36 L386.91 43.37 L387.36 41.42 L387.81 39.51 L388.26 37.63 L388.72 35.81 L389.17 34.02 L389.30 33.53 L389.62 32.28 L390.08 30.59 L390.53 28.95 L390.89 27.68 L390.98 27.36 L391.44 25.83 L391.89 24.35 L392.09 23.72 L392.34 22.92 L392.80 21.56 L393.25 20.25 L393.70 19.00 L394.16 17.82 L394.61 16.69 L395.06 15.63 L395.52 14.64 L395.97 13.71 L396.42 12.85 L396.88 12.06 L396.96 12.27 L397.04 12.49 L397.12 12.71 L397.21 12.94 L397.27 13.12 L397.29 13.17 L397.33 13.27 L397.37 13.40 L397.46 13.65 L397.54 13.89 L397.62 14.15 L397.71 14.40 L397.78 14.64 L397.79 14.66 L397.87 14.93 L397.96 15.20 L398.04 15.48 L398.12 15.76 L398.20 16.05 L398.23 16.16 L398.29 16.34 L398.37 16.64 L398.45 16.94 L398.54 17.25 L398.62 17.56 L398.69 17.82 L398.70 17.87 L398.79 18.20 L398.87 18.52 L398.95 18.85 L399.04 19.19 L399.12 19.53 L399.14 19.62 L399.20 19.87 L399.28 20.22 L399.37 20.57 L399.45 20.93 L399.53 21.29 L399.59 21.56 L399.62 21.66 L399.70 22.03 L399.78 22.41 L399.87 22.79 L399.95 23.17 L400.03 23.56 L400.05 23.63 L400.07 23.72 L400.12 23.95 L400.20 24.35 L400.28 24.75 L400.36 25.16 L400.45 25.57 L400.50 25.83 L400.53 25.98 L400.61 26.40 L400.70 26.82 L400.78 27.25 L400.86 27.68 L400.95 28.11 L400.95 28.15 L401.03 28.55 L401.11 28.99 L401.20 29.44 L401.28 29.89 L401.36 30.34 L401.41 30.59 L401.44 30.80 L401.53 31.26 L401.61 31.73 L401.69 32.20 L401.78 32.67 L401.86 33.15 L401.94 33.63 L402.03 34.11 L402.11 34.60 L402.19 35.09 L402.28 35.58 L402.31 35.80 L402.36 36.08 L402.44 36.58 L402.52 37.08 L402.61 37.59 L402.69 38.10 L402.77 38.57 L402.77 38.61 L402.86 39.13 L402.94 39.65 L403.02 40.17 L403.11 40.70 L403.19 41.23 L403.22 41.42 L403.27 41.76 L403.36 42.29 L403.44 42.83 L403.52 43.37 L403.60 43.92 L403.67 44.36 L403.69 44.46 L403.77 45.01 L403.85 45.56 L403.94 46.12 L404.02 46.68 L404.10 47.24 L404.13 47.39 L404.19 47.80 L404.27 48.36 L404.35 48.93 L404.44 49.50 L404.52 50.07 L404.58 50.49 L404.60 50.65 L404.68 51.22 L404.77 51.80 L404.85 52.38 L404.93 52.97 L405.02 53.55 L405.03 53.66 L405.10 54.14 L405.18 54.73 L405.27 55.33 L405.35 55.92 L405.43 56.52 L405.49 56.90 L405.52 57.11 L405.60 57.71 L405.68 58.32 L405.76 58.92 L405.85 59.52 L405.93 60.13 L405.94 60.19 L406.01 60.74 L406.10 61.35 L406.18 61.96 L406.26 62.58 L406.35 63.19 L406.39 63.53 L406.43 63.81 L406.51 64.43 L406.60 65.05 L406.68 65.67 L406.76 66.29 L406.84 66.91 L407.26 70.05 L407.30 70.34 L407.68 73.21 L407.75 73.79 L408.09 76.40 L408.20 77.27 L408.51 79.60 L408.66 80.77 L408.92 82.81 L409.11 84.28 L409.34 86.03 L409.56 87.79 L409.75 89.26 L410.02 91.31 L410.17 92.48 L410.47 94.82 L410.58 95.70 L410.92 98.33 L411.00 98.91 L411.38 101.81 L411.41 102.10 L411.83 105.28 L412.24 108.44 L412.28 108.72 L412.66 111.57 L412.74 112.14 L413.08 114.67 L413.19 115.51 L413.49 117.74 L413.64 118.85 L413.91 120.78 L414.10 122.15 L414.32 123.78 L414.55 125.40 L414.74 126.74 L415.00 128.60 L415.15 129.65 L415.45 131.74 L415.57 132.52 L415.91 134.83 L415.98 135.34 L416.36 137.87 L416.40 138.12 L416.81 140.84 L417.23 143.51 L417.27 143.75 L417.64 146.12 L417.72 146.59 L418.06 148.67 L418.17 149.36 L418.48 151.17 L418.63 152.07 L418.89 153.61 L419.08 154.70 L419.31 156.00 L419.53 157.27 L419.72 158.32 L419.99 159.76 L420.14 160.58 L420.44 162.18 L420.55 162.77 L420.89 164.53 L420.97 164.91 L421.35 166.80 L421.38 166.99 L421.80 169.00 L422.21 170.95 L422.25 171.13 L422.63 172.84 L422.71 173.18 L423.04 174.67 L423.16 175.16 L423.46 176.44 L423.61 177.07 L423.88 178.15 L424.06 178.91 L424.29 179.80 L424.52 180.67 L424.71 181.39 L424.97 182.37 L425.12 182.92 L425.42 184.00 L425.54 184.39 L425.88 185.56 L425.95 185.81 L426.33 187.05 L426.37 187.17 L426.78 188.48 L427.20 189.74 L427.24 189.85 L427.61 190.94 L427.69 191.15 L428.03 192.09 L428.14 192.40 L428.45 193.20 L428.60 193.59 L428.86 194.25 L429.05 194.71 L429.28 195.26 L429.50 195.79 L429.69 196.22 L429.96 196.81 L430.11 197.14 L430.41 197.78 L430.52 198.01 L430.86 198.70 L430.94 198.84 L431.32 199.57 L431.35 199.64 L431.77 200.39 L432.18 201.11 L432.22 201.17 L432.60 201.79 L432.67 201.90 L433.01 202.43 L433.13 202.60 L433.43 203.04 L433.58 203.25 L433.85 203.62 L434.03 203.87 L434.26 204.17 L434.49 204.45 L434.68 204.68 L434.94 205.00 L435.09 205.17 L435.39 205.51 L435.51 205.63 L435.85 205.99 L435.92 206.07 L436.30 206.44 L436.34 206.48 L436.75 206.87 L437.17 207.23 L437.21 207.26 L437.58 207.57 L437.66 207.63 L438.00 207.89 L438.11 207.98 L438.41 208.20 L438.57 208.30 L438.83 208.48 L439.02 208.60 L439.25 208.74 L439.47 208.88 L439.66 208.99 L439.93 209.14 L440.08 209.23 L440.38 209.39 L440.49 209.44 L440.83 209.61 L440.91 209.65 L441.28 209.82 L441.32 209.84 L441.74 210.02 L442.15 210.18 L442.19 210.20 L442.57 210.34 L442.64 210.36 L442.98 210.48 L443.10 210.52 L443.40 210.61 L443.55 210.66 L443.81 210.74 L444.00 210.79 L444.23 210.85 L444.46 210.91 L444.65 210.96 L444.91 211.02 L445.06 211.06 L445.36 211.13 L445.48 211.15 L445.82 211.22 L445.89 211.24 L446.27 211.31 L446.31 211.32 L446.72 211.39 L447.18 211.46 L447.63 211.53 L448.08 211.59 L448.54 211.65 L448.99 211.70 L449.44 211.75 L449.89 211.79 L450.35 211.83 L450.80 211.86 L451.25 211.90 L451.71 211.93 L452.16 211.95 L452.61 211.98 L453.07 212.00 L453.52 212.02 L453.97 212.04 L454.43 212.06 L454.88 212.07 L455.33 212.08 L455.79 212.10 L456.24 212.11 L456.69 212.12 L457.15 212.13 L457.60 212.13 L458.05 212.14 L458.50 212.15 L458.96 212.15 L459.41 212.16 L459.86 212.16 L460.32 212.17 L460.77 212.17 L461.22 212.17 L461.68 212.18 L462.13 212.18 L462.58 212.18 L463.04 212.18 L463.49 212.19 L463.94 212.19 L464.40 212.19 L464.85 212.19 L465.30 212.19 L465.76 212.19 L466.21 212.19 L466.66 212.19 L467.11 212.19 L467.57 212.20 L468.02 212.20 L468.47 212.20 L468.93 212.20 L469.38 212.20 L469.83 212.20 L470.29 212.20 L470.74 212.20 L471.19 212.20 L471.65 212.20 L472.10 212.20 L472.55 212.20 L473.01 212.20 L473.46 212.20 L473.91 212.20 L474.37 212.20 L474.82 212.20 L475.27 212.20 L475.72 212.20 L476.18 212.20 L476.63 212.20 L477.08 212.20 L477.54 212.20 L477.99 212.20 L478.44 212.20 L478.90 212.20 L479.35 212.20 L479.80 212.20 L480.26 212.20 L480.71 212.20 L481.16 212.20 L481.62 212.20 L482.07 212.20 L482.52 212.20 L482.98 212.20 L483.43 212.20 L483.88 212.20 L484.33 212.20 L484.79 212.20 L485.24 212.20 L485.69 212.20 L486.15 212.20 L486.60 212.20 L487.05 212.20 L487.51 212.20 L487.96 212.20 L488.41 212.20 L488.87 212.20 L489.32 212.20 L489.77 212.20 L490.23 212.20 L490.68 212.20 L491.13 212.20 L491.59 212.20 L492.04 212.20 L492.49 212.20 L492.94 212.20 L493.40 212.20 L493.85 212.20 L494.30 212.20 L494.76 212.20 L495.21 212.20 L495.66 212.20 L496.12 212.20 L496.57 212.20" fill="none" stroke="#111" stroke-width="1.15" stroke-linejoin="round" stroke-linecap="butt"/>
<path d="M297.18 211.80 L297.63 211.78 L298.09 211.76 L298.54 211.73 L298.99 211.71 L299.45 211.68 L299.90 211.65 L300.35 211.63 L300.81 211.59 L301.26 211.56 L301.71 211.53 L302.16 211.49 L302.62 211.46 L303.07 211.42 L303.52 211.38 L303.98 211.34 L304.43 211.29 L304.88 211.25 L305.34 211.20 L305.79 211.15 L306.24 211.09 L306.70 211.04 L307.15 210.98 L307.60 210.92 L308.06 210.86 L308.51 210.79 L308.96 210.72 L309.42 210.65 L309.87 210.57 L310.32 210.50 L310.77 210.41 L311.23 210.33 L311.68 210.24 L312.13 210.15 L312.59 210.05 L313.04 209.95 L313.49 209.85 L313.95 209.74 L314.40 209.63 L314.85 209.51 L315.31 209.39 L315.76 209.26 L316.21 209.13 L316.67 208.99 L317.12 208.85 L317.57 208.70 L318.03 208.54 L318.48 208.38 L318.93 208.22 L319.38 208.04 L319.84 207.87 L320.29 207.68 L320.74 207.49 L321.20 207.29 L321.65 207.08 L322.10 206.87 L322.56 206.64 L323.01 206.41 L323.46 206.18 L323.92 205.93 L324.37 205.67 L324.82 205.41 L325.28 205.14 L325.73 204.86 L326.18 204.56 L326.64 204.26 L327.09 203.95 L327.54 203.63 L327.99 203.30 L328.45 202.95 L328.90 202.60 L329.35 202.23 L329.81 201.86 L330.26 201.47 L330.71 201.07 L331.17 200.65 L331.62 200.23 L332.07 199.79 L332.53 199.34 L332.98 198.87 L333.43 198.40 L333.89 197.90 L334.34 197.40 L334.79 196.88 L335.25 196.34 L335.70 195.79 L336.15 195.22 L336.60 194.64 L337.06 194.04 L337.51 193.43 L337.96 192.80 L338.42 192.15 L338.87 191.49 L339.32 190.81 L339.78 190.12 L340.23 189.40 L340.68 188.67 L341.14 187.92 L341.59 187.15 L342.04 186.36 L342.50 185.56 L342.95 184.73 L343.40 183.89 L343.86 183.03 L344.31 182.15 L344.76 181.25 L345.21 180.32 L345.67 179.38 L346.12 178.42 L346.57 177.44 L347.03 176.44 L347.48 175.42 L347.93 174.38 L348.39 173.31 L348.84 172.23 L349.29 171.13 L349.75 170.00 L350.20 168.86 L350.65 167.69 L351.11 166.50 L351.56 165.29 L352.01 164.06 L352.47 162.81 L352.92 161.54 L353.37 160.25 L353.82 158.94 L354.28 157.61 L354.73 156.25 L355.18 154.88 L355.64 153.48 L356.09 152.07 L356.54 150.63 L357.00 149.18 L357.45 147.71 L357.90 146.21 L358.36 144.70 L358.81 143.17 L359.26 141.62 L359.72 140.05 L360.17 138.47 L360.62 136.86 L361.08 135.24 L361.53 133.61 L361.98 131.95 L362.43 130.28 L362.89 128.60 L363.34 126.90 L363.79 125.18 L364.25 123.45 L364.70 121.71 L365.15 119.95 L365.61 118.19 L366.06 116.41 L366.51 114.62 L366.97 112.81 L367.42 111.00 L367.87 109.18 L368.33 107.35 L368.78 105.51 L369.23 103.67 L369.69 101.81 L370.14 99.96 L370.59 98.09 L371.04 96.23 L371.50 94.36 L371.95 92.48 L372.40 90.61 L372.86 88.73 L373.31 86.86 L373.76 84.98 L374.22 83.11 L374.67 81.23 L375.12 79.37 L375.58 77.50 L376.03 75.64 L376.48 73.79 L376.94 71.95 L377.39 70.11 L377.84 68.28 L378.30 66.46 L378.75 64.65 L379.20 62.86 L379.65 61.07 L380.11 59.30 L380.56 57.55 L381.01 55.81 L381.47 54.09 L381.92 52.38 L382.37 50.70 L382.83 49.03 L383.28 47.39 L383.73 45.77 L384.19 44.16 L384.64 42.59 L385.09 41.03 L385.55 39.51 L386.00 38.01 L386.45 36.53 L386.91 35.09 L387.36 33.67 L387.81 32.28 L388.26 30.93 L388.72 29.60 L389.17 28.31 L389.30 27.96 L389.62 27.05 L390.08 25.83 L390.53 24.64 L390.89 23.72 L390.98 23.49 L391.44 22.37 L391.89 21.29 L392.09 20.83 L392.34 20.25 L392.80 19.25 L393.25 18.28 L393.70 17.36 L394.16 16.48 L394.61 15.63 L395.06 14.83 L395.52 14.08 L395.97 13.36 M397.12 13.12 L397.21 13.50 L397.27 13.81 L397.29 13.89 L397.33 14.08 L397.37 14.30 L397.46 14.72 L397.54 15.15 L397.62 15.59 L397.71 16.05 L397.78 16.48 L397.79 16.52 L397.87 17.00 L397.96 17.50 L398.04 18.00 L398.12 18.52 L398.20 19.05 L398.23 19.25 L398.29 19.59 L398.37 20.15 L398.45 20.71 L398.54 21.29 L398.62 21.88 L398.69 22.37 L398.70 22.48 L398.79 23.09 L398.87 23.72 L398.95 24.35 L399.04 24.99 L399.12 25.65 L399.14 25.83 L399.20 26.32 L399.28 26.99 L399.37 27.68 L399.45 28.38 L399.53 29.08 L399.59 29.60 L399.62 29.80 L399.70 30.53 L399.78 31.26 L399.87 32.01 L399.95 32.76 L400.03 33.53 L400.05 33.67 L400.07 33.84 L400.12 34.30 L400.20 35.09 L400.28 35.88 L400.36 36.68 L400.45 37.49 L400.50 38.01 L400.53 38.30 L400.61 39.13 L400.70 39.96 L400.78 40.80 L400.86 41.65 L400.95 42.51 L400.95 42.59 L401.03 43.37 L401.11 44.24 L401.20 45.12 L401.28 46.01 L401.36 46.90 L401.41 47.39 L401.44 47.80 L401.53 48.70 L401.61 49.61 L401.69 50.53 L401.78 51.46 L401.86 52.38 L401.94 53.32 L402.03 54.26 L402.11 55.21 L402.19 56.16 L402.28 57.11 L402.31 57.55 L402.36 58.07 L402.44 59.04 L402.52 60.01 L402.61 60.98 L402.69 61.96 L402.77 62.86 L402.77 62.95 L402.86 63.93 L402.94 64.92 L403.02 65.92 L403.11 66.91 L403.19 67.91 L403.22 68.28 L403.27 68.92 L403.36 69.92 L403.44 70.93 L403.52 71.95 L403.60 72.96 L403.67 73.79 L403.69 73.98 L403.77 74.99 L403.85 76.01 L403.94 77.04 L404.02 78.06 L404.10 79.09 L404.13 79.37 L404.19 80.11 L404.27 81.14 L404.35 82.17 L404.44 83.20 L404.52 84.23 L404.58 84.98 L404.60 85.26 L404.68 86.29 L404.77 87.32 L404.85 88.36 L404.93 89.39 L405.02 90.42 L405.03 90.61 L405.10 91.45 L405.18 92.48 L405.27 93.51 L405.35 94.54 L405.43 95.57 L405.49 96.23 L405.52 96.60 L405.60 97.63 L405.68 98.65 L405.76 99.68 L405.85 100.70 L405.93 101.72 L405.94 101.81 L406.01 102.74 L406.10 103.76 L406.18 104.77 L406.26 105.79 L406.35 106.80 L406.39 107.35 L406.43 107.81 L406.51 108.81 L406.60 109.82 L406.68 110.82 L406.76 111.82 L406.84 112.81 L407.26 117.74 L407.30 118.19 L407.68 122.58 L407.75 123.45 L408.09 127.32 L408.20 128.60 L408.51 131.95 L408.66 133.61 L408.92 136.46 L409.11 138.47 L409.34 140.84 L409.56 143.17 L409.75 145.08 L410.02 147.71 L410.17 149.18 L410.47 152.07 L410.58 153.13 L410.92 156.25 L411.00 156.93 L411.38 160.25 L411.41 160.58 L411.83 164.06 L412.24 167.40 L412.28 167.69 L412.66 170.57 L412.74 171.13 L413.08 173.58 L413.19 174.38 L413.49 176.44 L413.64 177.44 L413.91 179.15 L414.10 180.32 L414.32 181.70 L414.55 183.03 L414.74 184.10 L415.00 185.56 L415.15 186.36 L415.45 187.92 L415.57 188.48 L415.91 190.12 L415.98 190.47 L416.36 192.15 L416.40 192.32 L416.81 194.04 L417.23 195.65 L417.27 195.79 L417.64 197.14 L417.72 197.40 L418.06 198.52 L418.17 198.87 L418.48 199.79 L418.63 200.23 L418.89 200.97 L419.08 201.47 L419.31 202.05 L419.53 202.60 L419.72 203.04 L419.99 203.63 L420.14 203.95 L420.44 204.56 L420.55 204.78 L420.89 205.41 L420.97 205.54 L421.35 206.18 L421.38 206.24 L421.80 206.87 L422.21 207.44 L422.25 207.49 L422.63 207.96 L422.71 208.04 L423.04 208.42 L423.16 208.54 L423.46 208.85 L423.61 208.99 L423.88 209.23 L424.06 209.39 L424.29 209.57 L424.52 209.74 L424.71 209.87 L424.97 210.05 L425.12 210.15 L425.42 210.33 L425.54 210.39 L425.88 210.57 L425.95 210.61 L426.33 210.79 L426.37 210.81 L426.78 210.98 L427.20 211.13 L427.24 211.15 L427.61 211.27 L427.69 211.29 L428.03 211.39 L428.14 211.42 L428.45 211.49 L428.60 211.53 L428.86 211.59 L429.05 211.63 L429.28 211.67 L429.50 211.71 L429.69 211.74 L429.96 211.78 L430.11 211.80 L430.41 211.84 L430.52 211.86 L430.86 211.90 L430.94 211.91 L431.32 211.94 L431.35 211.95 L431.77 211.98 L432.18 212.01 L432.22 212.02 L432.60 212.04 L432.67 212.05 L433.01 212.06 L433.13 212.07 L433.43 212.08 L433.58 212.09 L433.85 212.10 L434.03 212.11 L434.26 212.12 L434.49 212.12 L434.68 212.13 L434.94 212.14 L435.09 212.14 L435.39 212.15 L435.51 212.15 L435.85 212.16 L435.92 212.16 L436.30 212.16 L436.34 212.16 L436.75 212.17 L437.17 212.17 L437.21 212.18 L437.58 212.18 L437.66 212.18 L438.00 212.18 L438.11 212.18 L438.41 212.19 L438.57 212.19 L438.83 212.19 L439.02 212.19 L439.25 212.19 L439.47 212.19 L439.66 212.19 L439.93 212.19 L440.08 212.19 L440.38 212.19 L440.49 212.19 L440.83 212.20 L440.91 212.20 L441.28 212.20 L441.32 212.20 L441.74 212.20 L442.15 212.20 L442.19 212.20 L442.57 212.20 L442.64 212.20 L442.98 212.20 L443.10 212.20 L443.40 212.20 L443.55 212.20 L443.81 212.20 L444.00 212.20 L444.23 212.20 L444.46 212.20 L444.65 212.20 L444.91 212.20 L445.06 212.20 L445.36 212.20 L445.48 212.20 L445.82 212.20 L445.89 212.20 L446.27 212.20 L446.31 212.20 L446.72 212.20 L447.18 212.20 L447.63 212.20 L448.08 212.20 L448.54 212.20 L448.99 212.20 L449.44 212.20 L449.89 212.20 L450.35 212.20" fill="none" stroke="#111" stroke-width="1.20" stroke-linejoin="round" stroke-linecap="butt" stroke-dasharray="3.400 2.720"/>
<path d="M297.18 208.49 L297.63 208.37 L298.09 208.23 L298.54 208.10 L298.99 207.96 L299.45 207.82 L299.90 207.67 L300.35 207.52 L300.81 207.36 L301.26 207.20 L301.71 207.04 L302.16 206.87 L302.62 206.69 L303.07 206.51 L303.52 206.33 L303.98 206.14 L304.43 205.94 L304.88 205.74 L305.34 205.54 L305.79 205.33 L306.24 205.11 L306.70 204.89 L307.15 204.66 L307.60 204.42 L308.06 204.18 L308.51 203.93 L308.96 203.68 L309.42 203.42 L309.87 203.15 L310.32 202.88 L310.77 202.60 L311.23 202.31 L311.68 202.02 L312.13 201.72 L312.59 201.41 L313.04 201.09 L313.49 200.76 L313.95 200.43 L314.40 200.09 L314.85 199.74 L315.31 199.39 L315.76 199.02 L316.21 198.65 L316.67 198.27 L317.12 197.88 L317.57 197.48 L318.03 197.07 L318.48 196.65 L318.93 196.22 L319.38 195.79 L319.84 195.34 L320.29 194.89 L320.74 194.42 L321.20 193.95 L321.65 193.46 L322.10 192.97 L322.56 192.46 L323.01 191.95 L323.46 191.42 L323.92 190.88 L324.37 190.34 L324.82 189.78 L325.28 189.21 L325.73 188.63 L326.18 188.04 L326.64 187.44 L327.09 186.82 L327.54 186.20 L327.99 185.56 L328.45 184.91 L328.90 184.25 L329.35 183.58 L329.81 182.89 L330.26 182.19 L330.71 181.48 L331.17 180.76 L331.62 180.03 L332.07 179.28 L332.53 178.53 L332.98 177.75 L333.43 176.97 L333.89 176.17 L334.34 175.37 L334.79 174.54 L335.25 173.71 L335.70 172.86 L336.15 172.00 L336.60 171.13 L337.06 170.24 L337.51 169.34 L337.96 168.43 L338.42 167.50 L338.87 166.57 L339.32 165.61 L339.78 164.65 L340.23 163.67 L340.68 162.68 L341.14 161.68 L341.59 160.66 L342.04 159.63 L342.50 158.59 L342.95 157.53 L343.40 156.47 L343.86 155.39 L344.31 154.29 L344.76 153.19 L345.21 152.07 L345.67 150.94 L346.12 149.79 L346.57 148.64 L347.03 147.47 L347.48 146.29 L347.93 145.10 L348.39 143.90 L348.84 142.68 L349.29 141.46 L349.75 140.22 L350.20 138.97 L350.65 137.71 L351.11 136.44 L351.56 135.16 L352.01 133.86 L352.47 132.56 L352.92 131.25 L353.37 129.93 L353.82 128.60 L354.28 127.26 L354.73 125.91 L355.18 124.55 L355.64 123.18 L356.09 121.80 L356.54 120.42 L357.00 119.03 L357.45 117.63 L357.90 116.22 L358.36 114.80 L358.81 113.38 L359.26 111.96 L359.72 110.52 L360.17 109.08 L360.62 107.64 L361.08 106.19 L361.53 104.74 L361.98 103.28 L362.43 101.81 L362.89 100.35 L363.34 98.88 L363.79 97.41 L364.25 95.93 L364.70 94.46 L365.15 92.98 L365.61 91.50 L366.06 90.02 L366.51 88.53 L366.97 87.05 L367.42 85.57 L367.87 84.09 L368.33 82.61 L368.78 81.14 L369.23 79.66 L369.69 78.19 L370.14 76.72 L370.59 75.25 L371.04 73.79 L371.50 72.33 L371.95 70.88 L372.40 69.43 L372.86 67.99 L373.31 66.56 L373.76 65.13 L374.22 63.71 L374.67 62.29 L375.12 60.89 L375.58 59.49 L376.03 58.10 L376.48 56.72 L376.94 55.36 L377.39 54.00 L377.84 52.65 L378.30 51.32 L378.75 50.00 L379.20 48.69 L379.65 47.39 L380.11 46.10 L380.56 44.84 L381.01 43.58 L381.47 42.34 L381.92 41.11 L382.37 39.91 L382.83 38.71 L383.28 37.54 L383.73 36.38 L384.19 35.24 L384.64 34.11 L385.09 33.01 L385.55 31.92 L386.00 30.86 L386.45 29.81 L386.91 28.78 L387.36 27.78 L387.81 26.79 L388.26 25.83 L388.72 24.89 L389.17 23.97 L389.30 23.72 L389.62 23.07 L390.08 22.20 L390.53 21.35 L390.89 20.68 L390.98 20.52 L391.44 19.72 L391.89 18.94 L392.09 18.60 L392.34 18.18 L392.80 17.45 L393.25 16.75 L393.70 16.07 L394.16 15.42 L394.61 14.79 L395.06 14.19 L395.52 13.62 M396.96 13.89 L397.04 16.05 L397.12 18.52 L397.21 21.29 L397.27 23.72 L397.29 24.35 L397.33 25.83 L397.37 27.68 L397.46 31.26 L397.54 35.09 L397.62 39.13 L397.71 43.37 L397.78 47.39 L397.79 47.80 L397.87 52.38 L397.96 57.11 L398.04 61.96 L398.12 66.91 L398.20 71.95 L398.23 73.79 L398.29 77.04 L398.37 82.17 L398.45 87.33 L398.54 92.48 L398.62 97.63 L398.69 101.81 L398.70 102.74 L398.79 107.81 L398.87 112.81 L398.95 117.74 L399.04 122.58 L399.12 127.32 L399.14 128.60 L399.20 131.95 L399.28 136.46 L399.37 140.84 L399.45 145.08 L399.53 149.18 L399.59 152.07 L399.62 153.13 L399.70 156.93 L399.78 160.58 L399.87 164.06 L399.95 167.40 L400.03 170.57 L400.05 171.13 L400.07 171.79 L400.12 173.58 L400.20 176.44 L400.28 179.15 L400.36 181.70 L400.45 184.10 L400.50 185.56 L400.53 186.36 L400.61 188.48 L400.70 190.47 L400.78 192.32 L400.86 194.04 L400.95 195.65 L400.95 195.79 L401.03 197.14 L401.11 198.52 L401.20 199.79 L401.28 200.97 L401.36 202.05 L401.41 202.60 L401.44 203.04 L401.53 203.95 L401.61 204.78 L401.69 205.54 L401.78 206.24 L401.86 206.87 L401.94 207.44 L402.03 207.96 L402.11 208.42 L402.19 208.85 L402.28 209.23 L402.31 209.39 L402.36 209.57 L402.44 209.87 L402.52 210.15 L402.61 210.39 L402.69 210.61 L402.77 210.79 L402.77 210.81 L402.86 210.98 L402.94 211.13 L403.02 211.27 L403.11 211.39 L403.19 211.49 L403.22 211.53 L403.27 211.59 L403.36 211.67 L403.44 211.74 L403.52 211.80 L403.60 211.86 L403.67 211.90 L403.69 211.91 L403.77 211.95 L403.85 211.98 L403.94 212.01 L404.02 212.04 L404.10 212.06 L404.13 212.07 L404.19 212.08 L404.27 212.10 L404.35 212.12 L404.44 212.13 L404.52 212.14 L404.58 212.15 L404.60 212.15 L404.68 212.16 L404.77 212.16 L404.85 212.17 L404.93 212.17 L405.02 212.18 L405.03 212.18 L405.10 212.18 L405.18 212.19 L405.27 212.19 L405.35 212.19 L405.43 212.19 L405.49 212.19 L405.52 212.19 L405.60 212.19 L405.68 212.20 L405.76 212.20 L405.85 212.20 L405.93 212.20 L405.94 212.20 L406.01 212.20 L406.10 212.20 L406.18 212.20 L406.26 212.20 L406.35 212.20 L406.39 212.20 L406.43 212.20 L406.51 212.20 L406.60 212.20 L406.68 212.20 L406.76 212.20 L406.84 212.20 L407.26 212.20 L407.30 212.20 L407.68 212.20 L407.75 212.20 L408.09 212.20 L408.20 212.20 L408.51 212.20 L408.66 212.20 L408.92 212.20 L409.11 212.20 L409.34 212.20 L409.56 212.20 L409.75 212.20 L410.02 212.20 L410.17 212.20 L410.47 212.20 L410.58 212.20 L410.92 212.20 L411.00 212.20 L411.38 212.20 L411.41 212.20 L411.83 212.20 L412.24 212.20 L412.28 212.20 L412.66 212.20 L412.74 212.20 L413.08 212.20 L413.19 212.20 L413.49 212.20 L413.64 212.20 L413.91 212.20 L414.10 212.20 L414.32 212.20 L414.55 212.20 L414.74 212.20 L415.00 212.20 L415.15 212.20 L415.45 212.20 L415.57 212.20 L415.91 212.20 L415.98 212.20 L416.36 212.20 L416.40 212.20 L416.81 212.20 L417.23 212.20 L417.27 212.20 L417.64 212.20 L417.72 212.20 L418.06 212.20 L418.17 212.20 L418.48 212.20 L418.63 212.20 L418.89 212.20 L419.08 212.20 L419.31 212.20 L419.53 212.20 L419.72 212.20 L419.99 212.20 L420.14 212.20 L420.44 212.20 L420.55 212.20 L420.89 212.20 L420.97 212.20 L421.35 212.20 L421.38 212.20 L421.80 212.20 L422.21 212.20 L422.25 212.20 L422.63 212.20 L422.71 212.20 L423.04 212.20 L423.16 212.20 L423.46 212.20 L423.61 212.20 L423.88 212.20 L424.06 212.20 L424.29 212.20 L424.52 212.20 L424.71 212.20 L424.97 212.20 L425.12 212.20 L425.42 212.20 L425.54 212.20 L425.88 212.20 L425.95 212.20 L426.33 212.20 L426.37 212.20 L426.78 212.20 L427.20 212.20 L427.24 212.20 L427.61 212.20 L427.69 212.20 L428.03 212.20 L428.14 212.20 L428.45 212.20 L428.60 212.20 L428.86 212.20 L429.05 212.20 L429.28 212.20 L429.50 212.20 L429.69 212.20 L429.96 212.20 L430.11 212.20 L430.41 212.20" fill="none" stroke="#111" stroke-width="1.00" stroke-linejoin="round" stroke-linecap="butt" stroke-dasharray="0.850 2.210"/>
<rect x="289.20" y="4.06" width="215.35" height="216.14" fill="none" stroke="#3a3a3a" stroke-width="0.80" stroke-linejoin="round"/>
<path d="M317.12 220.20 v3.50 M357.00 220.20 v3.50 M396.88 220.20 v3.50 M436.75 220.20 v3.50 M476.63 220.20 v3.50 M289.20 212.20 h-3.50 M289.20 169.13 h-3.50 M289.20 126.06 h-3.50 M289.20 83.00 h-3.50 M289.20 39.93 h-3.50" stroke="#3a3a3a" stroke-width="0.80" fill="none"/>
<g font-family="'Liberation Sans', Arial, sans-serif" font-size="8.10" fill="#1a1a1a" stroke="#1a1a1a" stroke-width="0.2">
<text transform="translate(317.12 233.45) scale(1 1.1)" text-anchor="middle">−4</text>
<text transform="translate(357.00 233.45) scale(1 1.1)" text-anchor="middle">−2</text>
<text transform="translate(396.88 233.45) scale(1 1.1)" text-anchor="middle">0</text>
<text transform="translate(436.75 233.45) scale(1 1.1)" text-anchor="middle">2</text>
<text transform="translate(476.63 233.45) scale(1 1.1)" text-anchor="middle">4</text>
<text transform="translate(282.20 215.05) scale(1 1.1)" text-anchor="end">0.0</text>
<text transform="translate(282.20 171.98) scale(1 1.1)" text-anchor="end">0.1</text>
<text transform="translate(282.20 128.91) scale(1 1.1)" text-anchor="end">0.2</text>
<text transform="translate(282.20 85.85) scale(1 1.1)" text-anchor="end">0.3</text>
<text transform="translate(282.20 42.78) scale(1 1.1)" text-anchor="end">0.4</text>
<text x="396.88" y="247.60" text-anchor="middle" font-size="8.8">x</text>
<text transform="translate(266.50 111.93) rotate(-90)" text-anchor="middle" font-size="9.1">pdf</text>
</g>
<path d="M431.20 18.36 H454.00" stroke="#111" stroke-width="1.15" fill="none"/>
<text font-family="'Liberation Sans', Arial, sans-serif" font-size="12" fill="#1a1a1a" stroke="#1a1a1a" stroke-width="0.22"><tspan x="464.60" y="22.76" font-family="'Liberation Serif', 'DejaVu Serif', serif" font-size="13" stroke-width="0.3">ε</tspan> <tspan x="472.20" y="22.91" font-size="10.4" textLength="7.3" lengthAdjust="spacingAndGlyphs" stroke="none" fill="#2a2a2a">=</tspan> <tspan x="481.60" y="22.66">0.2</tspan></text>
<path d="M431.20 32.86 H454.00" stroke="#111" stroke-width="1.20" fill="none" stroke-dasharray="3.400 2.720"/>
<text font-family="'Liberation Sans', Arial, sans-serif" font-size="12" fill="#1a1a1a" stroke="#1a1a1a" stroke-width="0.22"><tspan x="464.60" y="37.26" font-family="'Liberation Serif', 'DejaVu Serif', serif" font-size="13" stroke-width="0.3">ε</tspan> <tspan x="472.20" y="37.41" font-size="10.4" textLength="7.3" lengthAdjust="spacingAndGlyphs" stroke="none" fill="#2a2a2a">=</tspan> <tspan x="481.60" y="37.16">0.5</tspan></text>
<path d="M431.20 47.36 H454.00" stroke="#111" stroke-width="1.00" fill="none" stroke-dasharray="0.850 2.210"/>
<text font-family="'Liberation Sans', Arial, sans-serif" font-size="12" fill="#1a1a1a" stroke="#1a1a1a" stroke-width="0.22"><tspan x="464.60" y="51.76" font-family="'Liberation Serif', 'DejaVu Serif', serif" font-size="13" stroke-width="0.3">ε</tspan> <tspan x="472.20" y="51.91" font-size="10.4" textLength="7.3" lengthAdjust="spacingAndGlyphs" stroke="none" fill="#2a2a2a">=</tspan> <tspan x="481.60" y="51.66">0.9</tspan></text>
<text font-family="'Liberation Serif', serif" fill="#111" font-size="11.5"><tspan x="372.75" y="265.00">(</tspan><tspan x="376.65" y="265.50" font-size="12.0" font-weight="bold">b</tspan><tspan x="387.10" y="265.00" text-anchor="end">)</tspan></text>
</g>
<g>
<path d="M39.88 492.30 L40.33 492.30 L40.79 492.30 L41.24 492.30 L41.69 492.30 L42.15 492.30 L42.60 492.30 L43.06 492.30 L43.51 492.30 L43.96 492.30 L44.42 492.30 L44.87 492.30 L45.32 492.30 L45.78 492.30 L46.23 492.30 L46.68 492.30 L47.14 492.30 L47.59 492.30 L48.05 492.30 L48.50 492.30 L48.95 492.30 L49.41 492.30 L49.86 492.30 L50.31 492.30 L50.77 492.30 L51.22 492.30 L51.67 492.30 L52.13 492.30 L52.58 492.30 L53.03 492.30 L53.49 492.30 L53.94 492.30 L54.40 492.30 L54.85 492.30 L55.30 492.30 L55.76 492.30 L56.21 492.30 L56.66 492.30 L57.12 492.30 L57.57 492.30 L58.02 492.30 L58.48 492.30 L58.93 492.30 L59.39 492.30 L59.84 492.30 L60.29 492.30 L60.75 492.30 L61.20 492.30 L61.65 492.30 L62.11 492.30 L62.56 492.30 L63.01 492.30 L63.47 492.30 L63.92 492.30 L64.38 492.30 L64.83 492.30 L65.28 492.30 L65.74 492.30 L66.19 492.30 L66.64 492.30 L67.10 492.30 L67.55 492.30 L68.00 492.30 L68.46 492.30 L68.91 492.30 L69.36 492.30 L69.82 492.30 L70.27 492.30 L70.73 492.30 L71.18 492.30 L71.63 492.30 L72.09 492.30 L72.54 492.30 L72.99 492.30 L73.45 492.30 L73.90 492.30 L74.35 492.30 L74.81 492.30 L75.26 492.30 L75.72 492.30 L76.17 492.29 L76.62 492.29 L77.08 492.29 L77.53 492.29 L77.98 492.29 L78.44 492.29 L78.89 492.29 L79.34 492.29 L79.80 492.29 L80.25 492.29 L80.71 492.28 L81.16 492.28 L81.61 492.28 L82.07 492.28 L82.52 492.28 L82.97 492.27 L83.43 492.27 L83.88 492.27 L84.33 492.26 L84.79 492.26 L85.24 492.26 L85.69 492.25 L86.15 492.25 L86.60 492.24 L87.06 492.23 L87.51 492.23 L87.96 492.22 L88.42 492.21 L88.87 492.20 L89.32 492.19 L89.78 492.18 L90.23 492.17 L90.68 492.15 L91.14 492.14 L91.59 492.12 L92.05 492.11 L92.50 492.09 L92.95 492.07 L93.41 492.04 L93.86 492.02 L94.31 491.99 L94.77 491.96 L95.22 491.93 L95.67 491.90 L96.13 491.86 L96.58 491.82 L97.04 491.78 L97.49 491.73 L97.94 491.68 L98.40 491.63 L98.85 491.57 L99.30 491.51 L99.76 491.44 L100.21 491.36 L100.66 491.28 L101.12 491.20 L101.57 491.11 L102.03 491.01 L102.48 490.90 L102.93 490.79 L103.39 490.66 L103.84 490.53 L104.29 490.39 L104.75 490.24 L105.20 490.08 L105.65 489.91 L106.11 489.72 L106.56 489.53 L107.01 489.32 L107.47 489.09 L107.92 488.86 L108.38 488.60 L108.83 488.33 L109.28 488.05 L109.74 487.74 L110.19 487.42 L110.64 487.08 L111.10 486.72 L111.55 486.33 L112.00 485.92 L112.46 485.49 L112.91 485.04 L113.37 484.56 L113.82 484.05 L114.27 483.52 L114.73 482.95 L115.18 482.36 L115.63 481.74 L116.09 481.08 L116.54 480.39 L116.99 479.66 L117.45 478.90 L117.90 478.11 L118.36 477.27 L118.81 476.40 L119.26 475.48 L119.72 474.52 L120.17 473.53 L120.62 472.48 L121.08 471.39 L121.53 470.26 L121.98 469.08 L122.44 467.85 L122.89 466.57 L123.34 465.25 L123.80 463.87 L124.25 462.44 L124.71 460.96 L125.16 459.42 L125.61 457.83 L126.07 456.19 L126.52 454.49 L126.97 452.74 L127.43 450.93 L127.88 449.07 L128.33 447.15 L128.79 445.17 L129.24 443.14 L129.70 441.06 L130.15 438.92 L130.60 436.72 L131.06 434.47 L131.51 432.17 L131.96 429.81 L132.42 427.40 L132.87 424.94 L133.32 422.43 L133.78 419.88 L134.23 417.28 L134.69 414.63 L135.14 411.94 L135.59 409.20 L136.05 406.43 L136.50 403.62 L136.95 400.78 L137.41 397.90 L137.86 395.00 L138.31 392.07 L138.77 389.11 L139.22 386.13 L139.68 383.14 L140.13 380.13 L140.58 377.11 L141.04 374.09 L141.49 371.05 L141.94 368.02 L142.40 365.00 L142.85 361.98 L143.30 358.97 L143.76 355.98 L144.21 353.01 L144.66 350.06 L145.12 347.14 L145.57 344.26 L146.03 341.41 L146.48 338.60 L146.93 335.84 L147.39 333.12 L147.84 330.47 L148.29 327.87 L148.75 325.33 L149.20 322.86 L149.65 320.46 L150.11 318.13 L150.56 315.89 L151.02 313.73 L151.47 311.65 L151.92 309.66 L152.38 307.77 L152.83 305.97 L153.10 304.94 L153.28 304.28 L153.74 302.68 L154.19 301.20 L154.64 299.82 L155.10 298.55 L155.55 297.40 L156.01 296.36 L156.46 295.44 L156.91 294.64 L157.37 293.96 L157.82 293.40 L158.18 293.04 L158.27 292.96 L158.73 292.65 L159.18 292.46 L159.63 292.40 L160.09 292.46 L160.54 292.65 L160.99 292.96 L161.45 293.40 L161.90 293.96 L162.36 294.64 L162.81 295.44 L163.26 296.36 L163.72 297.40 L164.17 298.55 L164.62 299.82 L165.08 301.20 L165.53 302.68 L165.98 304.28 L166.44 305.97 L166.89 307.77 L166.97 307.46 L167.04 307.16 L167.12 306.86 L167.19 306.56 L167.27 306.27 L167.35 305.97 L167.42 305.68 L167.50 305.40 L167.57 305.11 L167.62 304.94 L167.65 304.83 L167.72 304.55 L167.80 304.28 L167.87 304.00 L167.95 303.73 L168.03 303.47 L168.10 303.20 L168.18 302.94 L168.25 302.68 L168.33 302.43 L168.40 302.18 L168.48 301.93 L168.56 301.68 L168.63 301.44 L168.71 301.20 L168.78 300.96 L168.86 300.72 L168.93 300.49 L169.01 300.26 L169.08 300.04 L169.16 299.82 L169.24 299.60 L169.31 299.38 L169.39 299.17 L169.46 298.96 L169.54 298.75 L169.61 298.55 L169.69 298.35 L169.76 298.15 L169.84 297.96 L169.92 297.77 L169.99 297.58 L170.07 297.40 L170.14 297.22 L170.22 297.04 L170.29 296.86 L170.37 296.69 L170.45 296.52 L170.52 296.36 L170.60 296.20 L170.67 296.04 L170.75 295.88 L170.82 295.73 L170.90 295.58 L170.97 295.44 L171.05 295.30 L171.13 295.16 L171.20 295.02 L171.28 294.89 L171.35 294.76 L171.43 294.64 L171.50 294.51 L171.58 294.40 L171.65 294.28 L171.73 294.17 L171.81 294.06 L171.88 293.96 L171.96 293.85 L172.03 293.76 L172.11 293.66 L172.18 293.57 L172.26 293.48 L172.34 293.40 L172.41 293.32 L172.49 293.24 L172.56 293.16 L172.64 293.09 L172.70 293.04 L172.71 293.03 L172.79 292.96 L172.86 292.90 L172.94 292.84 L173.02 292.79 L173.09 292.74 L173.17 292.69 L173.24 292.65 L173.32 292.61 L173.39 292.57 L173.47 292.54 L173.54 292.51 L173.62 292.49 L173.70 292.46 L173.77 292.44 L173.85 292.43 L173.92 292.42 L174.00 292.41 L174.07 292.40 L174.15 292.40 L174.23 292.40 L174.30 292.41 L174.38 292.42 L174.45 292.43 L174.53 292.44 L174.60 292.46 L174.68 292.49 L174.75 292.51 L174.83 292.54 L174.91 292.57 L174.98 292.61 L175.06 292.65 L175.13 292.69 L175.21 292.74 L175.28 292.79 L175.36 292.84 L175.43 292.90 L175.51 292.96 L175.59 293.03 L175.66 293.09 L175.74 293.16 L175.81 293.24 L175.89 293.32 L175.96 293.40 L176.34 293.85 L176.42 293.96 L176.72 294.40 L176.87 294.64 L177.10 295.02 L177.32 295.44 L177.48 295.73 L177.78 296.36 L177.85 296.52 L178.23 297.40 L178.61 298.35 L178.69 298.55 L178.99 299.38 L179.14 299.82 L179.37 300.49 L179.59 301.20 L179.74 301.68 L180.05 302.68 L180.12 302.94 L180.50 304.28 L180.88 305.68 L180.95 305.97 L181.26 307.16 L181.41 307.77 L181.63 308.70 L181.86 309.66 L182.01 310.31 L182.31 311.65 L182.39 311.99 L182.77 313.73 L183.15 315.52 L183.22 315.89 L183.52 317.38 L183.68 318.13 L183.90 319.29 L184.13 320.46 L184.28 321.25 L184.58 322.86 L184.66 323.27 L185.04 325.33 L185.41 327.44 L185.49 327.87 L185.79 329.59 L185.94 330.47 L186.17 331.79 L186.40 333.12 L186.55 334.02 L186.85 335.84 L186.93 336.29 L187.30 338.60 L187.68 340.94 L187.76 341.41 L188.06 343.30 L188.21 344.26 L188.44 345.70 L188.67 347.14 L188.82 348.11 L189.12 350.06 L189.19 350.55 L189.57 353.01 L189.95 355.48 L190.03 355.98 L190.33 357.97 L190.48 358.97 L190.71 360.47 L190.93 361.98 L191.08 362.98 L191.39 365.00 L191.46 365.50 L191.84 368.02 L192.22 370.55 L192.29 371.05 L192.60 373.08 L192.75 374.09 L192.97 375.60 L193.20 377.11 L193.35 378.12 L193.66 380.13 L193.73 380.63 L194.11 383.14 L194.49 385.64 L194.56 386.13 L194.86 388.12 L195.02 389.11 L195.24 390.59 L195.47 392.07 L195.62 393.05 L195.92 395.00 L196.00 395.48 L196.38 397.90 L196.75 400.30 L196.83 400.78 L197.13 402.68 L197.28 403.62 L197.51 405.03 L197.74 406.43 L197.89 407.36 L198.19 409.20 L198.27 409.66 L198.64 411.94 L199.02 414.18 L199.10 414.63 L199.40 416.40 L199.55 417.28 L199.78 418.58 L200.01 419.88 L200.16 420.74 L200.46 422.43 L200.53 422.86 L200.91 424.94 L201.29 427.00 L201.37 427.40 L201.67 429.01 L201.82 429.81 L202.05 430.99 L202.27 432.17 L202.42 432.94 L202.73 434.47 L202.80 434.85 L203.18 436.72 L203.56 438.55 L203.63 438.92 L203.94 440.35 L204.09 441.06 L204.31 442.11 L204.54 443.14 L204.69 443.83 L205.00 445.17 L205.07 445.51 L205.45 447.15 L205.83 448.75 L205.90 449.07 L206.21 450.32 L206.36 450.93 L206.58 451.84 L206.81 452.74 L206.96 453.33 L207.26 454.49 L207.34 454.78 L207.72 456.19 L208.10 457.56 L208.17 457.83 L208.47 458.90 L208.62 459.42 L208.85 460.20 L209.08 460.96 L209.23 461.46 L209.53 462.44 L209.61 462.68 L209.99 463.87 L210.36 465.02 L210.44 465.25 L210.74 466.14 L210.89 466.57 L211.12 467.22 L211.35 467.85 L211.50 468.27 L211.80 469.08 L211.88 469.28 L212.25 470.26 L212.71 471.39 L213.16 472.48 L213.61 473.53 L214.07 474.52 L214.52 475.48 L214.97 476.40 L215.43 477.27 L215.88 478.11 L216.34 478.90 L216.79 479.66 L217.24 480.39 L217.70 481.08 L218.15 481.74 L218.60 482.36 L219.06 482.95 L219.51 483.52 L219.96 484.05 L220.42 484.56 L220.87 485.04 L221.33 485.49 L221.78 485.92 L222.23 486.33 L222.69 486.72 L223.14 487.08 L223.59 487.42 L224.05 487.74 L224.50 488.05 L224.95 488.33 L225.41 488.60 L225.86 488.86 L226.32 489.09 L226.77 489.32 L227.22 489.53 L227.68 489.72 L228.13 489.91 L228.58 490.08 L229.04 490.24 L229.49 490.39 L229.94 490.53 L230.40 490.66 L230.85 490.79 L231.30 490.90 L231.76 491.01 L232.21 491.11 L232.67 491.20 L233.12 491.28 L233.57 491.36 L234.03 491.44 L234.48 491.51 L234.93 491.57 L235.39 491.63 L235.84 491.68 L236.29 491.73 L236.75 491.78 L237.20 491.82 L237.66 491.86 L238.11 491.90 L238.56 491.93 L239.02 491.96 L239.47 491.99" fill="none" stroke="#111" stroke-width="1.15" stroke-linejoin="round" stroke-linecap="butt"/>
<path d="M81.16 491.92 L81.61 491.89 L82.07 491.86 L82.52 491.82 L82.97 491.79 L83.43 491.75 L83.88 491.71 L84.33 491.66 L84.79 491.62 L85.24 491.57 L85.69 491.52 L86.15 491.46 L86.60 491.40 L87.06 491.34 L87.51 491.27 L87.96 491.20 L88.42 491.12 L88.87 491.04 L89.32 490.95 L89.78 490.86 L90.23 490.77 L90.68 490.66 L91.14 490.55 L91.59 490.44 L92.05 490.32 L92.50 490.19 L92.95 490.05 L93.41 489.91 L93.86 489.75 L94.31 489.59 L94.77 489.42 L95.22 489.24 L95.67 489.06 L96.13 488.86 L96.58 488.65 L97.04 488.43 L97.49 488.19 L97.94 487.95 L98.40 487.69 L98.85 487.42 L99.30 487.14 L99.76 486.84 L100.21 486.53 L100.66 486.20 L101.12 485.85 L101.57 485.49 L102.03 485.12 L102.48 484.72 L102.93 484.31 L103.39 483.88 L103.84 483.43 L104.29 482.95 L104.75 482.46 L105.20 481.95 L105.65 481.41 L106.11 480.85 L106.56 480.27 L107.01 479.66 L107.47 479.03 L107.92 478.38 L108.38 477.69 L108.83 476.98 L109.28 476.25 L109.74 475.48 L110.19 474.69 L110.64 473.86 L111.10 473.01 L111.55 472.12 L112.00 471.21 L112.46 470.26 L112.91 469.28 L113.37 468.27 L113.82 467.22 L114.27 466.14 L114.73 465.02 L115.18 463.87 L115.63 462.68 L116.09 461.46 L116.54 460.20 L116.99 458.90 L117.45 457.56 L117.90 456.19 L118.36 454.78 L118.81 453.33 L119.26 451.84 L119.72 450.32 L120.17 448.75 L120.62 447.15 L121.08 445.51 L121.53 443.83 L121.98 442.11 L122.44 440.35 L122.89 438.55 L123.34 436.72 L123.80 434.85 L124.25 432.94 L124.71 430.99 L125.16 429.01 L125.61 427.00 L126.07 424.94 L126.52 422.86 L126.97 420.74 L127.43 418.58 L127.88 416.40 L128.33 414.18 L128.79 411.94 L129.24 409.66 L129.70 407.36 L130.15 405.03 L130.60 402.68 L131.06 400.30 L131.51 397.90 L131.96 395.48 L132.42 393.05 L132.87 390.59 L133.32 388.12 L133.78 385.64 L134.23 383.14 L134.69 380.63 L135.14 378.12 L135.59 375.60 L136.05 373.08 L136.50 370.55 L136.95 368.02 L137.41 365.50 L137.86 362.98 L138.31 360.47 L138.77 357.97 L139.22 355.48 L139.68 353.01 L140.13 350.55 L140.58 348.11 L141.04 345.70 L141.49 343.30 L141.94 340.94 L142.40 338.60 L142.85 336.29 L143.30 334.02 L143.76 331.79 L144.21 329.59 L144.66 327.44 L145.12 325.33 L145.57 323.27 L146.03 321.25 L146.48 319.29 L146.93 317.38 L147.39 315.52 L147.84 313.73 L148.29 311.99 L148.75 310.31 L149.20 308.70 L149.65 307.16 L150.11 305.68 L150.56 304.28 L151.02 302.94 L151.47 301.68 L151.92 300.49 L152.38 299.38 L152.83 298.35 L153.10 297.77 L153.28 297.40 L153.74 296.52 L154.19 295.73 L154.64 295.02 L155.10 294.40 L155.55 293.85 L156.01 293.40 L156.46 293.03 L156.91 292.74 L157.37 292.54 L157.82 292.43 L158.18 292.40 L158.27 292.40 M159.63 292.84 L160.09 293.16 L160.54 293.57 L160.99 294.06 L161.45 294.64 L161.90 295.30 L162.36 296.04 L162.81 296.86 L163.26 297.77 L163.72 298.75 L164.17 299.82 L164.62 300.96 L165.08 302.18 L165.53 303.47 L165.98 304.83 M167.27 305.90 L167.35 305.54 L167.42 305.18 L167.50 304.83 L167.57 304.48 L167.62 304.28 L167.65 304.14 L167.72 303.80 L167.80 303.47 L167.87 303.14 L167.95 302.81 L168.03 302.49 L168.10 302.18 L168.18 301.86 L168.25 301.56 L168.33 301.26 L168.40 300.96 L168.48 300.67 L168.56 300.38 L168.63 300.10 L168.71 299.82 L168.78 299.54 L168.86 299.28 L168.93 299.01 L169.01 298.75 L169.08 298.50 L169.16 298.25 L169.24 298.01 L169.31 297.77 L169.39 297.53 L169.46 297.31 L169.54 297.08 L169.61 296.86 L169.69 296.65 L169.76 296.44 L169.84 296.24 L169.92 296.04 L169.99 295.84 L170.07 295.66 L170.14 295.47 L170.22 295.30 L170.29 295.12 L170.37 294.96 L170.45 294.79 L170.52 294.64 L170.60 294.48 L170.67 294.34 L170.75 294.20 L170.82 294.06 L170.90 293.93 L170.97 293.80 L171.05 293.68 L171.13 293.57 L171.20 293.46 L171.28 293.36 L171.35 293.26 L171.43 293.16 L171.50 293.08 L171.58 292.99 L171.65 292.92 L171.73 292.84 L171.81 292.78 L171.88 292.72 L171.96 292.66 L172.03 292.61 L172.11 292.56 L172.18 292.53 L172.26 292.49 L172.34 292.46 L172.41 292.44 L172.49 292.42 L172.56 292.41 L172.64 292.40 L172.70 292.40 L172.71 292.40 L172.79 292.40 L172.86 292.41 L172.94 292.43 M173.70 292.87 L173.77 292.95 L173.85 293.03 L173.92 293.11 L174.00 293.20 L174.07 293.30 L174.15 293.40 L174.23 293.50 L174.30 293.61 L174.38 293.73 L174.45 293.85 L174.53 293.98 L174.60 294.11 L174.68 294.25 L174.75 294.40 L174.83 294.54 L174.91 294.70 L174.98 294.86 L175.06 295.02 L175.13 295.19 L175.21 295.37 L175.28 295.55 L175.36 295.73 L175.43 295.92 L175.51 296.12 L175.59 296.32 L175.66 296.52 L175.74 296.73 L175.81 296.95 L175.89 297.17 L175.96 297.40 L176.34 298.60 L176.42 298.86 L176.72 299.93 L176.87 300.49 L177.10 301.38 L177.32 302.30 L177.48 302.94 L177.78 304.28 L177.85 304.62 L178.23 306.41 L178.61 308.31 L178.69 308.70 L178.99 310.31 L179.14 311.14 L179.37 312.42 L179.59 313.73 L179.74 314.62 L180.05 316.44 L180.12 316.91 L180.50 319.29 L180.88 321.75 L180.95 322.25 L181.26 324.29 L181.41 325.33 L181.63 326.91 L181.86 328.51 L182.01 329.59 L182.31 331.79 L182.39 332.34 L182.77 335.15 L183.15 338.02 L183.22 338.60 L183.52 340.94 L183.68 342.12 L183.90 343.90 L184.13 345.70 L184.28 346.90 L184.58 349.33 L184.66 349.94 L185.04 353.01 L185.41 356.10 L185.49 356.73 L185.79 359.22 L185.94 360.47 L186.17 362.36 L186.40 364.24 L186.55 365.50 L186.85 368.02 L186.93 368.66 L187.30 371.81 L187.68 374.97 L187.76 375.60 L188.06 378.12 L188.21 379.38 L188.44 381.26 L188.67 383.14 L188.82 384.39 L189.12 386.88 L189.19 387.50 L189.57 390.59 L189.95 393.66 L190.03 394.27 L190.33 396.70 L190.48 397.90 L190.71 399.70 L190.93 401.49 L191.08 402.68 L191.39 405.03 L191.46 405.62 L191.84 408.51 L192.22 411.37 L192.29 411.94 L192.60 414.18 L192.75 415.29 L192.97 416.95 L193.20 418.58 L193.35 419.66 L193.66 421.80 L193.73 422.33 L194.11 424.94 L194.49 427.50 L194.56 428.01 L194.86 430.01 L195.02 430.99 L195.24 432.46 L195.47 433.90 L195.62 434.85 L195.92 436.72 L196.00 437.18 L196.38 439.46 L196.75 441.67 L196.83 442.11 L197.13 443.83 L197.28 444.67 L197.51 445.92 L197.74 447.15 L197.89 447.96 L198.19 449.54 L198.27 449.93 L198.64 451.84 L199.02 453.70 L199.10 454.06 L199.40 455.49 L199.55 456.19 L199.78 457.22 L200.01 458.24 L200.16 458.90 L200.46 460.20 L200.53 460.51 L200.91 462.07 L201.29 463.57 L201.37 463.87 L201.67 465.02 L201.82 465.58 L202.05 466.41 L202.27 467.22 L202.42 467.75 L202.73 468.78 L202.80 469.03 L203.18 470.26 L203.56 471.44 L203.63 471.67 L203.94 472.57 L204.09 473.01 L204.31 473.65 L204.54 474.28 L204.69 474.69 L205.00 475.48 L205.07 475.68 L205.45 476.62 L205.83 477.52 L205.90 477.69 L206.21 478.38 L206.36 478.71 L206.58 479.19 L206.81 479.66 L206.96 479.97 L207.26 480.56 L207.34 480.71 L207.72 481.41 L208.10 482.08 L208.17 482.21 L208.47 482.71 L208.62 482.95 L208.85 483.31 L209.08 483.65 L209.23 483.88 L209.53 484.31 L209.61 484.41 L209.99 484.92 L210.36 485.40 L210.44 485.49 L210.74 485.85 L210.89 486.03 L211.12 486.28 L211.35 486.53 L211.50 486.68 L211.80 486.99 L211.88 487.06 L212.25 487.42 L212.71 487.82 L213.16 488.19 L213.61 488.54 L214.07 488.86 L214.52 489.15 L214.97 489.42 L215.43 489.68 L215.88 489.91 L216.34 490.12 L216.79 490.32 L217.24 490.50 L217.70 490.66 L218.15 490.81 L218.60 490.95 L219.06 491.08 L219.51 491.20 L219.96 491.30 L220.42 491.40 L220.87 491.49 L221.33 491.57 L221.78 491.64 L222.23 491.71 L222.69 491.77 L223.14 491.82 L223.59 491.87 L224.05 491.92 L224.50 491.96 L224.95 491.99 L225.41 492.03 L225.86 492.06 L226.32 492.08 L226.77 492.11 L227.22 492.13 L227.68 492.15 L228.13 492.16 L228.58 492.18 L229.04 492.19 L229.49 492.21 L229.94 492.22 L230.40 492.23 L230.85 492.23 L231.30 492.24 L231.76 492.25 L232.21 492.26 L232.67 492.26 L233.12 492.27 L233.57 492.27 L234.03 492.27 L234.48 492.28 L234.93 492.28 L235.39 492.28 L235.84 492.28 L236.29 492.29 L236.75 492.29 L237.20 492.29 L237.66 492.29 L238.11 492.29 L238.56 492.29" fill="none" stroke="#111" stroke-width="1.20" stroke-linejoin="round" stroke-linecap="butt" stroke-dasharray="3.400 2.720"/>
<path d="M59.39 491.93 L59.84 491.91 L60.29 491.89 L60.75 491.86 L61.20 491.84 L61.65 491.81 L62.11 491.78 L62.56 491.75 L63.01 491.72 L63.47 491.68 L63.92 491.65 L64.38 491.61 L64.83 491.57 L65.28 491.53 L65.74 491.48 L66.19 491.44 L66.64 491.39 L67.10 491.34 L67.55 491.28 L68.00 491.23 L68.46 491.17 L68.91 491.11 L69.36 491.04 L69.82 490.97 L70.27 490.90 L70.73 490.82 L71.18 490.75 L71.63 490.66 L72.09 490.58 L72.54 490.49 L72.99 490.39 L73.45 490.29 L73.90 490.19 L74.35 490.08 L74.81 489.97 L75.26 489.85 L75.72 489.72 L76.17 489.59 L76.62 489.46 L77.08 489.32 L77.53 489.17 L77.98 489.02 L78.44 488.86 L78.89 488.69 L79.34 488.52 L79.80 488.33 L80.25 488.14 L80.71 487.95 L81.16 487.74 L81.61 487.53 L82.07 487.31 L82.52 487.08 L82.97 486.84 L83.43 486.59 L83.88 486.33 L84.33 486.06 L84.79 485.78 L85.24 485.49 L85.69 485.19 L86.15 484.88 L86.60 484.56 L87.06 484.22 L87.51 483.88 L87.96 483.52 L88.42 483.14 L88.87 482.76 L89.32 482.36 L89.78 481.95 L90.23 481.52 L90.68 481.08 L91.14 480.62 L91.59 480.15 L92.05 479.66 L92.50 479.16 L92.95 478.64 L93.41 478.11 L93.86 477.55 L94.31 476.98 L94.77 476.40 L95.22 475.79 L95.67 475.17 L96.13 474.52 L96.58 473.86 L97.04 473.18 L97.49 472.48 L97.94 471.76 L98.40 471.02 L98.85 470.26 L99.30 469.48 L99.76 468.68 L100.21 467.85 L100.66 467.01 L101.12 466.14 L101.57 465.25 L102.03 464.33 L102.48 463.40 L102.93 462.44 L103.39 461.46 L103.84 460.45 L104.29 459.42 L104.75 458.37 L105.20 457.29 L105.65 456.19 L106.11 455.06 L106.56 453.91 L107.01 452.74 L107.47 451.54 L107.92 450.32 L108.38 449.07 L108.83 447.80 L109.28 446.50 L109.74 445.17 L110.19 443.83 L110.64 442.45 L111.10 441.06 L111.55 439.64 L112.00 438.19 L112.46 436.72 L112.91 435.23 L113.37 433.71 L113.82 432.17 L114.27 430.60 L114.73 429.01 L115.18 427.40 L115.63 425.77 L116.09 424.11 L116.54 422.43 L116.99 420.74 L117.45 419.02 L117.90 417.28 L118.36 415.51 L118.81 413.73 L119.26 411.94 L119.72 410.12 L120.17 408.28 L120.62 406.43 L121.08 404.56 L121.53 402.68 L121.98 400.78 L122.44 398.87 L122.89 396.94 L123.34 395.00 L123.80 393.05 L124.25 391.08 L124.71 389.11 L125.16 387.13 L125.61 385.14 L126.07 383.14 L126.52 381.14 L126.97 379.13 L127.43 377.11 L127.88 375.09 L128.33 373.08 L128.79 371.05 L129.24 369.03 L129.70 367.01 L130.15 365.00 L130.60 362.98 L131.06 360.97 L131.51 358.97 L131.96 356.98 L132.42 354.99 L132.87 353.01 L133.32 351.04 L133.78 349.09 L134.23 347.14 L134.69 345.21 L135.14 343.30 L135.59 341.41 L136.05 339.53 L136.50 337.67 L136.95 335.84 L137.41 334.02 L137.86 332.23 L138.31 330.47 L138.77 328.73 L139.22 327.01 L139.68 325.33 L140.13 323.67 L140.58 322.05 L141.04 320.46 L141.49 318.90 L141.94 317.38 L142.40 315.89 L142.85 314.44 L143.30 313.02 L143.76 311.65 L144.21 310.31 L144.66 309.02 L145.12 307.77 L145.57 306.56 L146.03 305.40 L146.48 304.28 L146.93 303.20 L147.39 302.18 L147.84 301.20 L148.29 300.26 L148.75 299.38 L149.20 298.55 L149.65 297.77 L150.11 297.04 L150.56 296.36 L151.02 295.73 L151.47 295.16 L151.92 294.64 L152.38 294.17 L152.83 293.76 L153.10 293.53 L153.28 293.40 L153.74 293.09 M155.55 292.43 L156.01 292.40 L156.46 292.43 M158.73 293.40 L159.18 293.76 L159.63 294.17 L160.09 294.64 L160.54 295.16 L160.99 295.73 L161.45 296.36 L161.90 297.04 L162.36 297.77 L162.81 298.55 L163.26 299.38 L163.72 300.26 L164.17 301.20 L164.62 302.18 L165.08 303.20 L165.53 304.28 L165.98 305.40 M167.04 306.56 L167.12 305.97 L167.19 305.40 L167.27 304.83 L167.35 304.28 L167.42 303.73 L167.50 303.20 L167.57 302.68 L167.62 302.38 L167.65 302.18 L167.72 301.68 L167.80 301.20 L167.87 300.72 L167.95 300.26 L168.03 299.82 M168.18 298.96 L168.25 298.55 L168.33 298.15 L168.40 297.77 L168.48 297.40 L168.56 297.04 L168.63 296.69 L168.71 296.36 L168.78 296.04 L168.86 295.73 L168.93 295.44 L169.01 295.16 L169.08 294.89 L169.16 294.64 L169.24 294.40 L169.31 294.17 L169.39 293.96 L169.46 293.76 L169.54 293.57 L169.61 293.40 L169.69 293.24 L169.76 293.09 L169.84 292.96 L169.92 292.84 L169.99 292.74 L170.07 292.65 L170.14 292.57 L170.22 292.51 L170.29 292.46 L170.37 292.43 L170.45 292.41 L170.52 292.40 L170.60 292.41 L170.67 292.43 L170.75 292.46 L170.82 292.51 L170.90 292.57 L170.97 292.65 L171.05 292.74 L171.13 292.84 L171.20 292.96 M171.50 293.57 L171.58 293.76 M171.88 294.64 L171.96 294.89 L172.03 295.16 L172.11 295.44 L172.18 295.73 L172.26 296.04 L172.34 296.36 L172.41 296.69 L172.49 297.04 L172.56 297.40 L172.64 297.77 L172.70 298.08 L172.71 298.15 L172.79 298.55 L172.86 298.96 L172.94 299.38 L173.02 299.82 L173.09 300.26 L173.17 300.72 L173.24 301.20 L173.32 301.68 L173.39 302.18 L173.47 302.68 L173.54 303.20 L173.62 303.73 L173.70 304.28 L173.77 304.83 L173.85 305.40 L173.92 305.97 L174.00 306.56 L174.07 307.16 L174.15 307.77 L174.23 308.39 L174.30 309.02 L174.38 309.66 L174.45 310.31 L174.53 310.98 L174.60 311.65 L174.68 312.33 L174.75 313.02 L174.83 313.73 L174.91 314.44 L174.98 315.16 L175.06 315.89 L175.13 316.63 L175.21 317.38 L175.28 318.13 L175.36 318.90 L175.43 319.68 L175.51 320.46 L175.59 321.25 L175.66 322.05 L175.74 322.86 L175.81 323.67 L175.89 324.50 L175.96 325.33 L176.34 329.59 L176.42 330.47 L176.72 334.02 L176.87 335.84 L177.10 338.60 L177.32 341.41 L177.48 343.30 L177.78 347.14 L177.85 348.11 L178.23 353.01 L178.61 357.97 L178.69 358.97 L178.99 362.98 L179.14 365.00 L179.37 368.02 L179.59 371.05 L179.74 373.08 L180.05 377.11 L180.12 378.12 L180.50 383.14 L180.88 388.12 L180.95 389.11 L181.26 393.05 L181.41 395.00 L181.63 397.90 L181.86 400.78 L182.01 402.68 L182.31 406.43 L182.39 407.36 L182.77 411.94 L183.15 416.40 L183.22 417.28 L183.52 420.74 L183.68 422.43 L183.90 424.94 L184.13 427.40 L184.28 429.01 L184.58 432.17 L184.66 432.94 L185.04 436.72 L185.41 440.35 L185.49 441.06 L185.79 443.83 L185.94 445.17 L186.17 447.15 L186.40 449.07 L186.55 450.32 L186.85 452.74 L186.93 453.33 L187.30 456.19 L187.68 458.90 L187.76 459.42 L188.06 461.46 L188.21 462.44 L188.44 463.87 L188.67 465.25 L188.82 466.14 L189.12 467.85 L189.19 468.27 L189.57 470.26 L189.95 472.12 L190.03 472.48 L190.33 473.86 L190.48 474.52 L190.71 475.48 L190.93 476.40 L191.08 476.98 L191.39 478.11 L191.46 478.38 L191.84 479.66 L192.22 480.85 L192.29 481.08 L192.60 481.95 L192.75 482.36 L192.97 482.95 L193.20 483.52 L193.35 483.88 L193.66 484.56 L193.73 484.72 L194.11 485.49 L194.49 486.20 L194.56 486.33 L194.86 486.84 L195.02 487.08 L195.24 487.42 L195.47 487.74 L195.62 487.95 L195.92 488.33 L196.00 488.43 L196.38 488.86 L196.75 489.24 L196.83 489.32 L197.13 489.59 L197.28 489.72 L197.51 489.91 L197.74 490.08 L197.89 490.19 L198.19 490.39 L198.27 490.44 L198.64 490.66 L199.02 490.86 L199.10 490.90 L199.40 491.04 L199.55 491.11 L199.78 491.20 L200.01 491.28 L200.16 491.34 L200.46 491.44 L200.53 491.46 L200.91 491.57 L201.29 491.66 L201.37 491.68 L201.67 491.75 L201.82 491.78 L202.05 491.82 L202.27 491.86 L202.42 491.89 L202.73 491.93 L202.80 491.94" fill="none" stroke="#111" stroke-width="1.00" stroke-linejoin="round" stroke-linecap="butt" stroke-dasharray="0.850 2.210"/>
<path d="M39.88 491.39 L40.33 491.35 L40.79 491.31 L41.24 491.27 L41.69 491.22 L42.15 491.17 L42.60 491.13 L43.06 491.07 L43.51 491.02 L43.96 490.97 L44.42 490.91 L44.87 490.85 L45.32 490.79 L45.78 490.73 L46.23 490.66 L46.68 490.60 L47.14 490.52 L47.59 490.45 L48.05 490.38 L48.50 490.30 L48.95 490.22 L49.41 490.13 L49.86 490.04 L50.31 489.95 L50.77 489.86 L51.22 489.76 L51.67 489.66 L52.13 489.56 L52.58 489.45 L53.03 489.34 L53.49 489.23 L53.94 489.11 L54.40 488.98 L54.85 488.86 L55.30 488.72 L55.76 488.59 L56.21 488.45 L56.66 488.30 L57.12 488.15 L57.57 488.00 L58.02 487.84 L58.48 487.68 L58.93 487.51 L59.39 487.33 L59.84 487.15 L60.29 486.97 L60.75 486.77 L61.20 486.58 L61.65 486.37 L62.11 486.16 L62.56 485.95 L63.01 485.72 L63.47 485.49 L63.92 485.26 L64.38 485.01 L64.83 484.76 L65.28 484.51 L65.74 484.24 L66.19 483.97 L66.64 483.69 L67.10 483.40 L67.55 483.10 L68.00 482.80 L68.46 482.49 L68.91 482.17 L69.36 481.84 L69.82 481.50 L70.27 481.15 L70.73 480.79 L71.18 480.43 L71.63 480.05 L72.09 479.66 L72.54 479.27 L72.99 478.86 L73.45 478.45 L73.90 478.02 L74.35 477.58 L74.81 477.14 L75.26 476.68 L75.72 476.21 L76.17 475.73 L76.62 475.23 L77.08 474.73 L77.53 474.21 L77.98 473.69 L78.44 473.15 L78.89 472.59 L79.34 472.03 L79.80 471.45 L80.25 470.86 L80.71 470.26 L81.16 469.65 L81.61 469.02 L82.07 468.37 L82.52 467.72 L82.97 467.05 L83.43 466.37 L83.88 465.67 L84.33 464.96 L84.79 464.24 L85.24 463.50 L85.69 462.74 L86.15 461.98 L86.60 461.19 L87.06 460.40 L87.51 459.59 L87.96 458.76 L88.42 457.92 L88.87 457.06 L89.32 456.19 L89.78 455.30 L90.23 454.40 L90.68 453.48 L91.14 452.55 L91.59 451.60 L92.05 450.64 L92.50 449.66 L92.95 448.67 L93.41 447.66 L93.86 446.64 L94.31 445.59 L94.77 444.54 L95.22 443.47 L95.67 442.38 L96.13 441.28 L96.58 440.16 L97.04 439.03 L97.49 437.88 L97.94 436.72 L98.40 435.54 L98.85 434.35 L99.30 433.14 L99.76 431.92 L100.21 430.68 L100.66 429.43 L101.12 428.17 L101.57 426.89 L102.03 425.60 L102.48 424.29 L102.93 422.97 L103.39 421.63 L103.84 420.29 L104.29 418.92 L104.75 417.55 L105.20 416.17 L105.65 414.77 L106.11 413.36 L106.56 411.94 L107.01 410.50 L107.47 409.06 L107.92 407.60 L108.38 406.14 L108.83 404.66 L109.28 403.18 L109.74 401.68 L110.19 400.18 L110.64 398.66 L111.10 397.14 L111.55 395.61 L112.00 394.08 L112.46 392.53 L112.91 390.98 L113.37 389.42 L113.82 387.86 L114.27 386.29 L114.73 384.72 L115.18 383.14 L115.63 381.56 L116.09 379.97 L116.54 378.38 L116.99 376.79 L117.45 375.20 L117.90 373.61 L118.36 372.01 L118.81 370.42 L119.26 368.82 L119.72 367.23 L120.17 365.63 L120.62 364.04 L121.08 362.45 L121.53 360.87 L121.98 359.29 L122.44 357.71 L122.89 356.14 L123.34 354.57 L123.80 353.01 L124.25 351.45 L124.71 349.91 L125.16 348.37 L125.61 346.84 L126.07 345.32 L126.52 343.80 L126.97 342.30 L127.43 340.81 L127.88 339.33 L128.33 337.87 L128.79 336.41 L129.24 334.98 L129.70 333.55 L130.15 332.14 L130.60 330.74 L131.06 329.36 L131.51 328.00 L131.96 326.66 L132.42 325.33 L132.87 324.02 L133.32 322.73 L133.78 321.46 L134.23 320.21 L134.69 318.98 L135.14 317.77 L135.59 316.59 L136.05 315.43 L136.50 314.29 L136.95 313.17 L137.41 312.08 L137.86 311.01 L138.31 309.97 L138.77 308.95 L139.22 307.96 L139.68 307.00 L140.13 306.06 L140.58 305.16 L141.04 304.28 L141.49 303.42 L141.94 302.60 L142.40 301.81 L142.85 301.05 L143.30 300.31 L143.76 299.61 L144.21 298.94 L144.66 298.30 L145.12 297.69 L145.57 297.11 L146.03 296.57 L146.48 296.05 L146.93 295.58 L147.39 295.13 L147.84 294.71 L148.29 294.33 L148.75 293.99 L149.20 293.68 L149.65 293.40 L150.11 293.15 L150.56 292.94 L151.02 292.77 L151.47 292.62 L151.92 292.52 L152.38 292.44 L152.83 292.41 L153.10 292.40 L153.28 292.40 L153.74 292.43 L154.19 292.50 L154.64 292.60 L155.10 292.73 L155.55 292.90 M157.82 294.26 L158.18 294.56 L158.27 294.64 L158.73 295.04 L159.18 295.48 L159.63 295.96 L160.09 296.46 L160.54 297.00 L160.99 297.57 L161.45 298.17 L161.90 298.81 L162.36 299.47 L162.81 300.17 L163.26 300.90 L163.72 301.65 L164.17 302.44 L164.62 303.26 L165.08 304.10 L165.53 304.98 L165.98 305.88 L166.44 306.81 M166.97 304.83 L167.04 302.18 L167.12 299.82 L167.19 297.77 L167.27 296.04 L167.35 294.64 L167.42 293.57 L167.50 292.84 L167.57 292.46 L167.62 292.40 L167.65 292.43 L167.72 292.74 L167.80 293.40 L167.87 294.40 L167.95 295.73 L168.03 297.40 L168.10 299.38 M168.25 304.28 L168.33 307.16 L168.40 310.31 L168.48 313.73 L168.56 317.38 L168.63 321.25 L168.71 325.33 L168.78 329.59 L168.86 334.02 L168.93 338.60 L169.01 343.30 L169.08 348.11 L169.16 353.01 L169.24 357.97 L169.31 362.98 L169.39 368.02 L169.46 373.08 L169.54 378.12 L169.61 383.14 L169.69 388.12 L169.76 393.05 L169.84 397.90 L169.92 402.68 L169.99 407.36 L170.07 411.94 L170.14 416.40 L170.22 420.74 L170.29 424.94 L170.37 429.01 L170.45 432.94 L170.52 436.72 L170.60 440.35 L170.67 443.83 L170.75 447.15 L170.82 450.32 L170.90 453.33 L170.97 456.19 L171.05 458.90 L171.13 461.46 L171.20 463.87 L171.28 466.14 L171.35 468.27 L171.43 470.26 L171.50 472.13 L171.58 473.86 L171.65 475.48 L171.73 476.98 L171.81 478.38 L171.88 479.66 L171.96 480.85 L172.03 481.95 L172.11 482.95 L172.18 483.88 L172.26 484.72 L172.34 485.49 L172.41 486.20 L172.49 486.84 L172.56 487.42 L172.64 487.95 L172.70 488.33 L172.71 488.43 L172.79 488.86 L172.86 489.24 L172.94 489.59 L173.02 489.91 L173.09 490.19 L173.17 490.44 L173.24 490.66 L173.32 490.86 L173.39 491.04 L173.47 491.20 L173.54 491.34 L173.62 491.46 L173.70 491.57 L173.77 491.66 L173.85 491.75 L173.92 491.82 L174.00 491.89 L174.07 491.94 L174.15 491.99 L174.23 492.04 L174.30 492.07 L174.38 492.11 L174.45 492.13 L174.53 492.16 L174.60 492.18 L174.68 492.20 L174.75 492.21 L174.83 492.23 L174.91 492.24 L174.98 492.25 L175.06 492.26 L175.13 492.26 L175.21 492.27 L175.28 492.27 L175.36 492.28 L175.43 492.28 L175.51 492.28 L175.59 492.29 L175.66 492.29 L175.74 492.29 L175.81 492.29 L175.89 492.29 L175.96 492.29 L176.34 492.30 L176.42 492.30 L176.72 492.30 L176.87 492.30 L177.10 492.30 L177.32 492.30 L177.48 492.30 L177.78 492.30 L177.85 492.30 L178.23 492.30 L178.61 492.30 L178.69 492.30 L178.99 492.30 L179.14 492.30 L179.37 492.30 L179.59 492.30 L179.74 492.30 L180.05 492.30 L180.12 492.30 L180.50 492.30 L180.88 492.30 L180.95 492.30 L181.26 492.30 L181.41 492.30 L181.63 492.30 L181.86 492.30 L182.01 492.30 L182.31 492.30 L182.39 492.30 L182.77 492.30 L183.15 492.30 L183.22 492.30 L183.52 492.30 L183.68 492.30 L183.90 492.30 L184.13 492.30 L184.28 492.30 L184.58 492.30 L184.66 492.30 L185.04 492.30 L185.41 492.30 L185.49 492.30 L185.79 492.30 L185.94 492.30 L186.17 492.30 L186.40 492.30 L186.55 492.30 L186.85 492.30 L186.93 492.30 L187.30 492.30 L187.68 492.30 L187.76 492.30 L188.06 492.30 L188.21 492.30 L188.44 492.30 L188.67 492.30 L188.82 492.30 L189.12 492.30 L189.19 492.30 L189.57 492.30 L189.95 492.30 L190.03 492.30 L190.33 492.30 L190.48 492.30 L190.71 492.30 L190.93 492.30 L191.08 492.30 L191.39 492.30 L191.46 492.30 L191.84 492.30 L192.22 492.30 L192.29 492.30 L192.60 492.30 L192.75 492.30 L192.97 492.30 L193.20 492.30 L193.35 492.30 L193.66 492.30 L193.73 492.30 L194.11 492.30 L194.49 492.30 L194.56 492.30 L194.86 492.30 L195.02 492.30 L195.24 492.30 L195.47 492.30 L195.62 492.30 L195.92 492.30 L196.00 492.30 L196.38 492.30 L196.75 492.30 L196.83 492.30 L197.13 492.30 L197.28 492.30 L197.51 492.30 L197.74 492.30 L197.89 492.30 L198.19 492.30 L198.27 492.30 L198.64 492.30 L199.02 492.30 L199.10 492.30 L199.40 492.30 L199.55 492.30 L199.78 492.30 L200.01 492.30 L200.16 492.30 L200.46 492.30 L200.53 492.30 L200.91 492.30 L201.29 492.30 L201.37 492.30 L201.67 492.30 L201.82 492.30 L202.05 492.30 L202.27 492.30 L202.42 492.30 L202.73 492.30 L202.80 492.30 L203.18 492.30 L203.56 492.30 L203.63 492.30 L203.94 492.30 L204.09 492.30 L204.31 492.30 L204.54 492.30 L204.69 492.30 L205.00 492.30 L205.07 492.30 L205.45 492.30 L205.83 492.30 L205.90 492.30 L206.21 492.30 L206.36 492.30 L206.58 492.30 L206.81 492.30 L206.96 492.30 L207.26 492.30 L207.34 492.30 L207.72 492.30 L208.10 492.30 L208.17 492.30 L208.47 492.30 L208.62 492.30 L208.85 492.30 L209.08 492.30 L209.23 492.30 L209.53 492.30 L209.61 492.30 L209.99 492.30 L210.36 492.30 L210.44 492.30 L210.74 492.30 L210.89 492.30 L211.12 492.30 L211.35 492.30 L211.50 492.30 L211.80 492.30 L211.88 492.30 L212.25 492.30 L212.71 492.30 L213.16 492.30 L213.61 492.30 L214.07 492.30 L214.52 492.30 L214.97 492.30 L215.43 492.30 L215.88 492.30 L216.34 492.30 L216.79 492.30 L217.24 492.30 L217.70 492.30 L218.15 492.30 L218.60 492.30 L219.06 492.30 L219.51 492.30 L219.96 492.30 L220.42 492.30 L220.87 492.30 L221.33 492.30 L221.78 492.30 L222.23 492.30 L222.69 492.30 L223.14 492.30 L223.59 492.30 L224.05 492.30" fill="none" stroke="#111" stroke-width="1.10" stroke-linejoin="round" stroke-linecap="butt" stroke-dasharray="1.000 2.060 3.400 1.955"/>
<rect x="31.90" y="284.40" width="215.55" height="215.90" fill="none" stroke="#3a3a3a" stroke-width="0.80" stroke-linejoin="round"/>
<path d="M58.02 500.30 v3.50 M94.31 500.30 v3.50 M130.60 500.30 v3.50 M166.89 500.30 v3.50 M203.18 500.30 v3.50 M239.47 500.30 v3.50 M31.90 492.30 h-3.50 M31.90 459.46 h-3.50 M31.90 426.62 h-3.50 M31.90 393.78 h-3.50 M31.90 360.93 h-3.50 M31.90 328.09 h-3.50 M31.90 295.25 h-3.50" stroke="#3a3a3a" stroke-width="0.80" fill="none"/>
<g font-family="'Liberation Sans', Arial, sans-serif" font-size="8.10" fill="#1a1a1a" stroke="#1a1a1a" stroke-width="0.2">
<text transform="translate(58.02 513.55) scale(1 1.1)" text-anchor="middle">−6</text>
<text transform="translate(94.31 513.55) scale(1 1.1)" text-anchor="middle">−4</text>
<text transform="translate(130.60 513.55) scale(1 1.1)" text-anchor="middle">−2</text>
<text transform="translate(166.89 513.55) scale(1 1.1)" text-anchor="middle">0</text>
<text transform="translate(203.18 513.55) scale(1 1.1)" text-anchor="middle">2</text>
<text transform="translate(239.47 513.55) scale(1 1.1)" text-anchor="middle">4</text>
<text transform="translate(24.90 495.15) scale(1 1.1)" text-anchor="end">0.00</text>
<text transform="translate(24.90 462.31) scale(1 1.1)" text-anchor="end">0.05</text>
<text transform="translate(24.90 429.47) scale(1 1.1)" text-anchor="end">0.10</text>
<text transform="translate(24.90 396.63) scale(1 1.1)" text-anchor="end">0.15</text>
<text transform="translate(24.90 363.78) scale(1 1.1)" text-anchor="end">0.20</text>
<text transform="translate(24.90 330.94) scale(1 1.1)" text-anchor="end">0.25</text>
<text transform="translate(24.90 298.10) scale(1 1.1)" text-anchor="end">0.30</text>
<text x="139.67" y="527.70" text-anchor="middle" font-size="8.8">x</text>
<text transform="translate(9.20 392.15) rotate(-90)" text-anchor="middle" font-size="9.1">pdf</text>
</g>
<path d="M41.90 298.70 H64.60" stroke="#111" stroke-width="1.15" fill="none"/>
<text font-family="'Liberation Sans', Arial, sans-serif" font-size="12" fill="#1a1a1a" stroke="#1a1a1a" stroke-width="0.22"><tspan x="75.20" y="303.10" font-family="'Liberation Serif', 'DejaVu Serif', serif" font-size="13" stroke-width="0.3">ε</tspan> <tspan x="82.80" y="303.25" font-size="10.4" textLength="7.3" lengthAdjust="spacingAndGlyphs" stroke="none" fill="#2a2a2a">=</tspan> <tspan x="92.20" y="303.00">0.0</tspan></text>
<path d="M41.90 313.20 H64.60" stroke="#111" stroke-width="1.20" fill="none" stroke-dasharray="3.400 2.720"/>
<text font-family="'Liberation Sans', Arial, sans-serif" font-size="12" fill="#1a1a1a" stroke="#1a1a1a" stroke-width="0.22"><tspan x="75.20" y="317.60" font-family="'Liberation Serif', 'DejaVu Serif', serif" font-size="13" stroke-width="0.3">ε</tspan> <tspan x="82.80" y="317.75" font-size="10.4" textLength="7.3" lengthAdjust="spacingAndGlyphs" stroke="none" fill="#2a2a2a">=</tspan> <tspan x="92.20" y="317.50">0.2</tspan></text>
<path d="M41.90 327.70 H64.60" stroke="#111" stroke-width="1.00" fill="none" stroke-dasharray="0.850 2.210"/>
<text font-family="'Liberation Sans', Arial, sans-serif" font-size="12" fill="#1a1a1a" stroke="#1a1a1a" stroke-width="0.22"><tspan x="75.20" y="332.10" font-family="'Liberation Serif', 'DejaVu Serif', serif" font-size="13" stroke-width="0.3">ε</tspan> <tspan x="82.80" y="332.25" font-size="10.4" textLength="7.3" lengthAdjust="spacingAndGlyphs" stroke="none" fill="#2a2a2a">=</tspan> <tspan x="92.20" y="332.00">0.5</tspan></text>
<path d="M41.90 342.20 H64.60" stroke="#111" stroke-width="1.10" fill="none" stroke-dasharray="1.000 2.060 3.400 1.955"/>
<text font-family="'Liberation Sans', Arial, sans-serif" font-size="12" fill="#1a1a1a" stroke="#1a1a1a" stroke-width="0.22"><tspan x="75.20" y="346.60" font-family="'Liberation Serif', 'DejaVu Serif', serif" font-size="13" stroke-width="0.3">ε</tspan> <tspan x="82.80" y="346.75" font-size="10.4" textLength="7.3" lengthAdjust="spacingAndGlyphs" stroke="none" fill="#2a2a2a">=</tspan> <tspan x="92.20" y="346.50">0.9</tspan></text>
<text font-family="'Liberation Serif', serif" fill="#111" font-size="11.5"><tspan x="116.35" y="545.10">(</tspan><tspan x="119.45" y="545.60" font-size="11.5" font-weight="bold">c</tspan><tspan x="128.40" y="545.10" text-anchor="end">)</tspan></text>
</g>
<g>
<path d="M297.18 491.86 L297.63 491.80 L298.09 491.73 L298.54 491.65 L298.99 491.56 L299.45 491.46 L299.90 491.34 L300.35 491.21 L300.81 491.07 L301.26 490.91 L301.71 490.73 L302.16 490.53 L302.62 490.31 L303.07 490.06 L303.52 489.79 L303.98 489.49 L304.43 489.16 L304.88 488.79 L305.34 488.38 L305.79 487.94 L306.24 487.45 L306.70 486.92 L307.15 486.33 L307.60 485.69 L308.06 485.00 L308.51 484.24 L308.96 483.42 L309.42 482.52 L309.87 481.56 L310.32 480.52 L310.77 479.39 L311.23 478.18 L311.68 476.88 L312.13 475.48 L312.59 473.98 L313.04 472.39 L313.49 470.68 L313.95 468.86 L314.40 466.93 L314.85 464.88 L315.31 462.70 L315.76 460.40 L316.21 457.98 L316.67 455.43 L317.12 452.74 L317.57 449.92 L318.03 446.97 L318.48 443.89 L318.93 440.67 L319.38 437.32 L319.84 433.85 L320.29 430.24 L320.74 426.51 L321.20 422.66 L321.65 418.70 L322.10 414.63 L322.56 410.45 L323.01 406.18 L323.46 401.82 L323.92 397.38 L324.37 392.87 L324.82 388.30 L325.28 383.69 L325.73 379.03 L326.18 374.36 L326.50 371.05 L326.64 369.68 L326.75 368.53 L326.99 366.01 L327.09 365.00 L327.24 363.49 L327.48 360.97 L327.54 360.34 L327.72 358.47 L327.97 355.98 L327.99 355.71 L328.21 353.50 L328.45 351.13 L328.46 351.04 L328.70 348.60 L328.90 346.62 L328.95 346.18 L329.19 343.78 L329.35 342.18 L329.43 341.41 L329.68 339.06 L329.81 337.84 L329.92 336.75 L330.17 334.47 L330.26 333.61 L330.41 332.23 L330.66 330.03 L330.71 329.51 L330.90 327.87 L331.14 325.75 L331.17 325.56 L331.39 323.67 L331.62 321.76 L331.63 321.65 L331.88 319.68 L332.07 318.13 L332.12 317.75 L332.37 315.89 L332.53 314.70 L332.61 314.08 L332.86 312.33 L332.98 311.46 L333.10 310.64 L333.34 309.02 L333.43 308.45 L333.59 307.46 L333.83 305.97 L333.89 305.66 L334.08 304.55 L334.32 303.20 L334.34 303.11 L334.57 301.93 L334.79 300.81 L334.81 300.72 L335.05 299.60 L335.25 298.77 L335.30 298.55 L335.54 297.58 L335.70 297.01 L335.79 296.69 L336.03 295.88 L336.15 295.52 L336.28 295.16 L336.52 294.51 L336.60 294.31 L336.76 293.96 L337.01 293.48 L337.06 293.40 L337.25 293.09 L337.50 292.79 L337.51 292.78 L337.74 292.57 L337.96 292.45 L337.99 292.44 L338.23 292.40 L338.42 292.43 L338.48 292.44 L338.72 292.57 L338.87 292.70 L338.96 292.79 L339.21 293.09 L339.32 293.27 L339.45 293.48 L339.70 293.96 L339.78 294.13 L339.94 294.51 L340.19 295.16 L340.23 295.28 L340.43 295.88 L340.67 296.69 L340.68 296.72 L340.92 297.58 L341.14 298.44 L341.16 298.55 L341.41 299.60 L341.59 300.43 L341.65 300.72 L341.75 301.20 L341.90 301.93 L342.04 302.68 L342.14 303.20 L342.38 304.55 L342.50 305.19 L342.63 305.97 L342.87 307.46 L342.95 307.94 L343.12 309.02 L343.36 310.64 L343.40 310.92 L343.61 312.33 L343.85 314.08 L343.86 314.11 L344.10 315.89 L344.31 317.51 L344.34 317.75 L344.58 319.68 L344.76 321.11 L344.83 321.65 L345.07 323.67 L345.21 324.88 L345.32 325.75 L345.56 327.87 L345.67 328.81 L345.81 330.03 L346.05 332.23 L346.12 332.88 L346.29 334.47 L346.54 336.75 L346.57 337.09 L346.78 339.06 L347.03 341.41 L347.27 343.78 L347.48 345.83 L347.52 346.18 L347.76 348.60 L347.93 350.33 L348.00 351.04 L348.25 353.50 L348.39 354.90 L348.49 355.98 L348.74 358.47 L348.84 359.52 L348.98 360.97 L349.23 363.49 L349.29 364.17 L349.47 366.01 L349.72 368.53 L349.75 368.85 L349.96 371.05 L350.01 371.56 L350.06 372.06 L350.11 372.57 L350.16 373.08 L350.20 373.53 L350.20 373.58 L350.25 374.09 L350.30 374.59 L350.35 375.09 L350.40 375.60 L350.45 376.10 L350.50 376.61 L350.55 377.11 L350.60 377.62 L350.64 378.12 L350.65 378.21 L350.69 378.62 L350.74 379.13 L350.79 379.63 L350.84 380.13 L350.89 380.63 L350.94 381.14 L350.99 381.64 L351.03 382.14 L351.08 382.64 L351.11 382.87 L351.13 383.14 L351.18 383.64 L351.23 384.14 L351.28 384.64 L351.33 385.14 L351.38 385.64 L351.43 386.13 L351.47 386.63 L351.52 387.13 L351.56 387.49 L351.57 387.62 L351.62 388.12 L351.67 388.62 L351.72 389.11 L351.77 389.60 L351.82 390.10 L351.87 390.59 L351.91 391.08 L351.96 391.58 L352.01 392.07 L352.06 392.56 L352.11 393.05 L352.16 393.54 L352.21 394.02 L352.26 394.51 L352.31 395.00 L352.35 395.48 L352.40 395.97 L352.45 396.45 L352.47 396.59 L352.50 396.94 L352.55 397.42 L352.60 397.90 L352.65 398.38 L352.70 398.87 L352.75 399.35 L352.79 399.82 L352.84 400.30 L352.89 400.78 L352.92 401.04 L352.94 401.26 L352.99 401.73 L353.04 402.21 L353.09 402.68 L353.14 403.15 L353.19 403.62 L353.23 404.09 L353.28 404.56 L353.33 405.03 L353.37 405.41 L353.38 405.50 L353.43 405.97 L353.48 406.43 L353.53 406.90 L353.58 407.36 L353.62 407.82 L353.67 408.28 L353.72 408.74 L353.77 409.20 L353.82 409.66 L353.82 409.70 L353.87 410.12 L353.92 410.57 L353.97 411.03 L354.02 411.48 L354.06 411.94 L354.11 412.39 L354.16 412.84 L354.21 413.29 L354.26 413.73 L354.28 413.90 L354.31 414.18 L354.36 414.63 L354.41 415.07 L354.46 415.51 L354.50 415.96 L354.55 416.40 L354.60 416.84 L354.65 417.28 L354.70 417.71 L354.73 417.99 L354.75 418.15 L354.80 418.58 L354.85 419.02 L354.90 419.45 L354.94 419.88 L354.99 420.31 L355.04 420.74 L355.09 421.16 L355.14 421.59 L355.18 421.97 L355.19 422.01 L355.24 422.43 L355.29 422.86 L355.34 423.28 L355.38 423.70 L355.43 424.11 L355.48 424.53 L355.53 424.94 L355.58 425.36 L355.63 425.77 L355.64 425.84 L355.68 426.18 L355.73 426.59 L355.78 427.00 L355.82 427.40 L356.09 425.17 L356.54 421.28 L357.00 417.28 L357.45 413.16 L357.90 408.95 L358.36 404.65 L358.81 400.26 L359.26 395.79 L359.72 391.26 L360.17 386.68 L360.62 382.05 L361.08 377.39 L361.53 372.71 L361.98 368.02 L362.43 363.35 L362.89 358.70 L363.34 354.09 L363.79 349.53 L364.25 345.04 L364.70 340.64 L365.15 336.34 L365.61 332.15 L366.06 328.10 L366.51 324.20 L366.97 320.46 L367.42 316.90 L367.87 313.53 L368.33 310.37 L368.78 307.44 L369.23 304.73 L369.69 302.27 L370.14 300.06 L370.59 298.12 L371.04 296.45 L371.50 295.06 L371.95 293.96 L372.40 293.14 L372.86 292.63 L373.31 292.41 L373.42 292.40 L373.76 292.49 L374.22 292.86 L374.67 293.54 L375.12 294.50 L375.58 295.76 L376.03 297.30 L376.48 299.11 L376.94 301.20 L377.39 303.54 L377.84 306.13 L378.30 308.96 L378.75 312.02 L379.20 315.29 L379.65 318.76 L380.11 322.42 L380.56 326.24 L381.01 330.23 L381.47 334.35 L381.92 338.60 L382.21 341.41 L382.37 342.96 L382.83 347.41 L383.28 351.93 L383.73 356.52 L384.19 361.16 L384.64 365.82 L385.09 370.50 L385.55 375.19 L386.00 379.86 L386.45 384.50 L386.91 389.11 L387.36 393.67 L387.81 398.17 L388.26 402.59 L388.72 406.94 L389.17 411.19 L389.25 411.94 L389.62 415.35 L390.08 419.41 L390.53 423.35 L390.98 427.18 L391.44 430.89 L391.89 434.47 L392.34 437.92 L392.80 441.25 L393.25 444.44 L393.70 447.50 L394.16 450.43 L394.61 453.22 L395.06 455.89 L395.52 458.42 L395.97 460.82 L396.42 463.09 L396.88 465.25 L397.33 467.28 L397.78 469.19 L398.23 470.99 L398.69 472.68 L399.14 474.26 L399.59 475.73 L400.05 477.11 L400.50 478.40 L400.95 479.60 L401.41 480.71 L401.86 481.74 L402.31 482.69 L402.77 483.57 L403.22 484.38 L403.67 485.12 L404.13 485.81 L404.58 486.44 L405.03 487.01 L405.49 487.54 L405.94 488.02 L406.39 488.46 L406.84 488.86 L407.30 489.22 L407.75 489.55 L408.20 489.84 L408.66 490.11 L409.11 490.35 L409.56 490.57 L410.02 490.76 L410.47 490.94 L410.92 491.10 L411.38 491.24 L411.83 491.36 L412.28 491.47 L412.74 491.57 L413.19 491.66 L413.64 491.74 L414.10 491.81 L414.55 491.87 L415.00 491.93 L415.45 491.98 L415.91 492.02 L416.36 492.05 L416.81 492.09 L417.27 492.12 L417.72 492.14 L418.17 492.16 L418.63 492.18 L419.08 492.20 L419.53 492.21 L419.99 492.22 L420.44 492.24 L420.89 492.24 L421.35 492.25 L421.80 492.26 L422.25 492.27 L422.71 492.27 L423.16 492.28 L423.61 492.28 L424.06 492.28 L424.52 492.28 L424.97 492.29 L425.42 492.29 L425.88 492.29 L426.33 492.29 L426.78 492.29 L427.24 492.29 L427.69 492.30 L428.14 492.30 L428.60 492.30 L429.05 492.30 L429.50 492.30 L429.96 492.30 L430.41 492.30 L430.86 492.30 L431.32 492.30 L431.77 492.30 L432.22 492.30 L432.67 492.30 L433.13 492.30 L433.58 492.30 L434.03 492.30 L434.49 492.30 L434.94 492.30 L435.39 492.30 L435.85 492.30 L436.30 492.30 L436.75 492.30 L437.21 492.30 L437.66 492.30 L438.11 492.30 L438.57 492.30 L439.02 492.30 L439.47 492.30 L439.93 492.30 L440.38 492.30 L440.83 492.30 L441.28 492.30 L441.74 492.30 L442.19 492.30 L442.64 492.30 L443.10 492.30 L443.55 492.30 L444.00 492.30 L444.46 492.30 L444.91 492.30 L445.36 492.30 L445.82 492.30 L446.27 492.30 L446.72 492.30 L447.18 492.30 L447.63 492.30 L448.08 492.30 L448.54 492.30 L448.99 492.30 L449.44 492.30 L449.89 492.30 L450.35 492.30 L450.80 492.30 L451.25 492.30 L451.71 492.30 L452.16 492.30 L452.61 492.30 L453.07 492.30 L453.52 492.30 L453.97 492.30 L454.43 492.30 L454.88 492.30 L455.33 492.30 L455.79 492.30 L456.24 492.30 L456.69 492.30 L457.15 492.30 L457.60 492.30 L458.05 492.30 L458.50 492.30 L458.96 492.30 L459.41 492.30 L459.86 492.30 L460.32 492.30 L460.77 492.30 L461.22 492.30 L461.68 492.30 L462.13 492.30 L462.58 492.30 L463.04 492.30 L463.49 492.30 L463.94 492.30 L464.40 492.30 L464.85 492.30 L465.30 492.30 L465.76 492.30 L466.21 492.30 L466.66 492.30 L467.11 492.30 L467.57 492.30 L468.02 492.30 L468.47 492.30 L468.93 492.30 L469.38 492.30 L469.83 492.30 L470.29 492.30 L470.74 492.30 L471.19 492.30 L471.65 492.30 L472.10 492.30 L472.55 492.30 L473.01 492.30 L473.46 492.30 L473.91 492.30 L474.37 492.30 L474.82 492.30 L475.27 492.30 L475.72 492.30 L476.18 492.30 L476.63 492.30 L477.08 492.30 L477.54 492.30 L477.99 492.30 L478.44 492.30 L478.90 492.30 L479.35 492.30 L479.80 492.30 L480.26 492.30 L480.71 492.30 L481.16 492.30 L481.62 492.30 L482.07 492.30 L482.52 492.30 L482.98 492.30 L483.43 492.30 L483.88 492.30 L484.33 492.30 L484.79 492.30 L485.24 492.30 L485.69 492.30 L486.15 492.30 L486.60 492.30 L487.05 492.30 L487.51 492.30 L487.96 492.30 L488.41 492.30 L488.87 492.30 L489.32 492.30 L489.77 492.30 L490.23 492.30 L490.68 492.30 L491.13 492.30 L491.59 492.30 L492.04 492.30 L492.49 492.30 L492.94 492.30 L493.40 492.30 L493.85 492.30 L494.30 492.30 L494.76 492.30 L495.21 492.30 L495.66 492.30 L496.12 492.30 L496.57 492.30" fill="none" stroke="#111" stroke-width="1.15" stroke-linejoin="round" stroke-linecap="butt"/>
<path d="M297.18 492.30 L297.63 492.30 L298.09 492.30 L298.54 492.30 L298.99 492.29 L299.45 492.29 L299.90 492.29 L300.35 492.29 L300.81 492.29 L301.26 492.28 L301.71 492.28 L302.16 492.27 L302.62 492.27 L303.07 492.26 L303.52 492.25 L303.98 492.24 L304.43 492.23 L304.88 492.21 L305.34 492.19 L305.79 492.17 L306.24 492.14 L306.70 492.11 L307.15 492.08 L307.60 492.03 L308.06 491.98 L308.51 491.92 L308.96 491.85 L309.42 491.77 L309.87 491.68 L310.32 491.57 L310.77 491.44 L311.23 491.29 L311.68 491.12 L312.13 490.93 L312.59 490.70 L313.04 490.45 L313.49 490.15 L313.95 489.82 L314.40 489.44 L314.85 489.01 L315.31 488.53 L315.76 487.99 L316.21 487.38 L316.67 486.69 L317.12 485.92 L317.57 485.07 L318.03 484.12 L318.48 483.07 L318.93 481.91 L319.38 480.63 L319.84 479.22 L320.29 477.67 L320.74 475.99 L321.20 474.14 L321.65 472.14 L322.10 469.97 L322.56 467.62 L323.01 465.09 L323.46 462.37 L323.92 459.46 L324.37 456.34 L324.82 453.02 L325.28 449.50 L325.73 445.76 L326.18 441.82 L326.50 438.92 L326.64 437.68 L326.75 436.63 L326.99 434.28 L327.09 433.32 L327.24 431.87 L327.48 429.41 L327.54 428.78 L327.72 426.89 L327.97 424.32 L327.99 424.04 L328.21 421.69 L328.45 419.11 L328.46 419.02 L328.70 416.29 L328.90 414.02 L328.95 413.51 L329.19 410.69 L329.35 408.76 L329.43 407.82 L329.68 404.91 L329.81 403.37 L329.92 401.97 L330.17 398.99 L330.26 397.84 L330.41 395.97 L330.66 392.92 L330.71 392.20 L330.90 389.85 L331.14 386.76 L331.17 386.47 L331.39 383.64 L331.62 380.68 L331.63 380.51 L331.88 377.36 L332.07 374.84 L332.12 374.21 L332.37 371.05 L332.53 368.99 L332.61 367.90 L332.86 364.75 L332.98 363.14 L333.10 361.60 L333.34 358.47 L333.43 357.34 L333.59 355.36 L333.83 352.27 L333.89 351.60 L334.08 349.21 L334.32 346.18 L334.34 345.96 L334.57 343.18 L334.79 340.45 L334.81 340.23 L335.05 337.33 L335.25 335.09 L335.30 334.47 L335.54 331.68 L335.70 329.93 L335.79 328.94 L336.03 326.27 L336.15 324.99 L336.28 323.67 L336.52 321.15 L336.60 320.30 L336.76 318.71 L337.01 316.35 L337.06 315.89 L337.25 314.08 L337.50 311.90 L337.51 311.79 L337.74 309.82 L337.96 308.02 L337.99 307.85 L338.23 305.97 L338.42 304.62 L338.48 304.21 L338.72 302.56 L338.87 301.59 L338.96 301.02 L339.21 299.60 L339.32 298.97 L339.45 298.30 L339.70 297.13 L339.78 296.77 L339.94 296.08 M340.43 294.37 L340.67 293.71 L340.68 293.69 L340.92 293.18 L341.14 292.83 L341.16 292.79 L341.41 292.53 L341.59 292.43 L341.65 292.41 L341.75 292.40 L341.90 292.42 L342.04 292.50 L342.14 292.57 L342.38 292.86 L342.50 293.03 L342.63 293.28 L342.87 293.83 L342.95 294.03 L343.12 294.51 L343.36 295.33 L343.40 295.48 L343.61 296.28 L343.85 297.35 L343.86 297.37 L344.10 298.55 L344.31 299.70 L344.34 299.87 L344.58 301.32 L344.76 302.44 L344.83 302.88 L345.07 304.55 L345.21 305.58 L345.32 306.34 L345.56 308.23 L345.67 309.09 L345.81 310.23 L346.05 312.33 L346.12 312.96 L346.29 314.53 L346.54 316.81 L346.57 317.16 L346.78 319.19 L347.03 321.65 L347.27 324.19 L347.48 326.42 L347.52 326.80 L347.76 329.48 L347.93 331.43 L348.00 332.23 L348.25 335.04 L348.39 336.65 L348.49 337.90 L348.74 340.82 L348.84 342.05 L348.98 343.78 L349.23 346.78 L349.29 347.61 L349.47 349.82 L349.72 352.89 L349.75 353.28 L349.96 355.98 L350.01 356.60 L350.06 357.22 L350.11 357.85 L350.16 358.47 L350.20 359.04 L350.20 359.10 L350.25 359.72 L350.30 360.35 L350.35 360.97 L350.40 361.60 L350.45 362.23 L350.50 362.86 L350.55 363.49 L350.60 364.12 L350.64 364.75 L350.65 364.86 L350.69 365.38 L350.74 366.01 L350.79 366.64 L350.84 367.27 L350.89 367.90 L350.94 368.53 L350.99 369.16 L351.03 369.79 L351.08 370.42 L351.11 370.71 L351.13 371.05 L351.18 371.69 L351.23 372.32 L351.28 372.95 L351.33 373.58 L351.38 374.21 L351.43 374.84 L351.47 375.47 L351.52 376.10 L351.56 376.56 L351.57 376.73 L351.62 377.36 L351.67 377.99 L351.72 378.62 L351.77 379.25 L351.82 379.88 L351.87 380.51 L351.91 381.14 L351.96 381.76 L352.01 382.39 L352.06 383.01 L352.11 383.64 L352.16 384.26 L352.21 384.89 L352.26 385.51 L352.31 386.13 L352.35 386.76 L352.40 387.38 L352.45 388.00 L352.47 388.17 L352.50 388.62 L352.55 389.23 L352.60 389.85 L352.65 390.47 L352.70 391.08 L352.75 391.70 L352.79 392.31 L352.84 392.92 L352.89 393.54 L352.92 393.87 L352.94 394.15 L352.99 394.75 L353.04 395.36 L353.09 395.97 L353.14 396.58 L353.19 397.18 L353.23 397.78 L353.28 398.38 L353.33 398.99 L353.37 399.48 L353.38 399.58 L353.43 400.18 L353.48 400.78 L353.53 401.37 L353.58 401.97 L353.62 402.56 L353.67 403.15 L353.72 403.74 L353.77 404.33 L353.82 404.91 L353.82 404.97 L353.87 405.50 L353.92 406.08 L353.97 406.66 L354.02 407.24 L354.06 407.82 L354.11 408.40 L354.16 408.97 L354.21 409.55 L354.26 410.12 L354.28 410.33 L354.31 410.69 L354.36 411.26 L354.41 411.82 L354.46 412.39 L354.50 412.95 L354.55 413.51 L354.60 414.07 L354.65 414.63 L354.70 415.18 L354.73 415.53 L354.75 415.74 L354.80 416.29 L354.85 416.84 L354.90 417.38 L354.94 417.93 L354.99 418.47 L355.04 419.02 L355.09 419.56 L355.14 420.09 L355.18 420.58 L355.19 420.63 L355.24 421.16 L355.29 421.69 L355.34 422.22 L355.38 422.75 L355.43 423.28 L355.48 423.80 L355.53 424.32 L355.58 424.84 L355.63 425.36 L355.64 425.45 M356.09 425.54 L356.54 422.32 L357.00 419.02 L357.45 415.64 L357.90 412.18 L358.36 408.66 L358.81 405.07 L359.26 401.43 L359.72 397.73 L360.17 393.98 L360.62 390.19 L361.08 386.36 L361.53 382.50 L361.98 378.62 L362.43 374.73 L362.89 370.82 L363.34 366.92 L363.79 363.03 L364.25 359.15 L364.70 355.30 L365.15 351.49 L365.61 347.72 L366.06 344.00 L366.51 340.34 L366.97 336.75 L367.42 333.25 L367.87 329.83 L368.33 326.51 L368.78 323.30 L369.23 320.21 L369.69 317.24 L370.14 314.40 L370.59 311.71 L371.04 309.17 L371.50 306.78 L371.95 304.55 L372.40 302.50 L372.86 300.62 L373.31 298.92 L373.42 298.55 L373.76 297.41 L374.22 296.10 L374.67 294.97 L375.12 294.05 L375.58 293.33 L376.03 292.81 L376.48 292.50 L376.94 292.40 L377.39 292.50 L377.84 292.81 L378.30 293.33 L378.75 294.05 L379.20 294.97 L379.65 296.10 L380.11 297.41 L380.56 298.92 L381.01 300.62 L381.47 302.50 L381.92 304.55 L382.21 305.97 L382.37 306.78 L382.83 309.17 L383.28 311.71 L383.73 314.40 L384.19 317.24 L384.64 320.21 L385.09 323.30 L385.55 326.51 L386.00 329.83 L386.45 333.25 L386.91 336.75 L387.36 340.34 L387.81 344.00 L388.26 347.72 L388.72 351.49 L389.17 355.30 L389.25 355.98 L389.62 359.15 L390.08 363.03 L390.53 366.92 L390.98 370.82 L391.44 374.73 L391.89 378.62 L392.34 382.50 L392.80 386.36 L393.25 390.19 L393.70 393.98 L394.16 397.73 L394.61 401.43 L395.06 405.07 L395.52 408.66 L395.97 412.18 L396.42 415.64 L396.88 419.02 L397.33 422.32 L397.78 425.54 L398.23 428.69 L398.69 431.74 L399.14 434.71 L399.59 437.59 L400.05 440.38 L400.50 443.08 L400.95 445.69 L401.41 448.20 L401.86 450.63 L402.31 452.96 L402.77 455.19 L403.22 457.34 L403.67 459.40 L404.13 461.37 L404.58 463.25 L405.03 465.04 L405.49 466.75 L405.94 468.38 L406.39 469.93 L406.84 471.39 L407.30 472.79 L407.75 474.11 L408.20 475.35 L408.66 476.53 L409.11 477.64 L409.56 478.69 L410.02 479.68 L410.47 480.60 L410.92 481.47 L411.38 482.29 L411.83 483.05 L412.28 483.76 L412.74 484.43 L413.19 485.05 L413.64 485.63 L414.10 486.17 L414.55 486.68 L415.00 487.14 L415.45 487.57 L415.91 487.98 L416.36 488.35 L416.81 488.69 L417.27 489.01 L417.72 489.30 L418.17 489.57 L418.63 489.81 L419.08 490.04 L419.53 490.25 L419.99 490.44 L420.44 490.62 L420.89 490.78 L421.35 490.92 L421.80 491.06 L422.25 491.18 L422.71 491.29 L423.16 491.39 L423.61 491.48 L424.06 491.57 L424.52 491.64 L424.97 491.71 L425.42 491.77 L425.88 491.83 L426.33 491.88 L426.78 491.92" fill="none" stroke="#111" stroke-width="1.20" stroke-linejoin="round" stroke-linecap="butt" stroke-dasharray="3.400 2.720"/>
<path d="M326.18 491.94 L326.50 491.86 L326.64 491.83 L326.75 491.79 L326.99 491.72 L327.09 491.68 L327.24 491.63 L327.48 491.53 L327.54 491.50 L327.72 491.41 L327.97 491.28 L327.99 491.27 L328.21 491.14 L328.45 490.98 L328.46 490.97 L328.70 490.79 L328.90 490.62 L328.95 490.58 L329.19 490.34 L329.35 490.17 L329.43 490.08 L329.68 489.79 L329.81 489.62 L329.92 489.46 L330.17 489.09 L330.26 488.94 L330.41 488.69 L330.66 488.24 L330.71 488.13 L330.90 487.74 L331.14 487.19 L331.17 487.14 L331.39 486.59 L331.62 485.96 L331.63 485.92 L331.88 485.19 L332.07 484.56 L332.12 484.39 L332.37 483.52 L332.53 482.90 L332.61 482.56 L332.86 481.52 L332.98 480.96 L333.10 480.39 L333.34 479.16 L333.43 478.69 L333.59 477.83 L333.83 476.40 L333.89 476.07 L334.08 474.85 L334.32 473.18 L334.34 473.06 L334.57 471.39 L334.79 469.62 L334.81 469.48 L335.05 467.43 L335.25 465.73 L335.30 465.25 L335.54 462.92 L335.70 461.37 L335.79 460.45 L336.03 457.83 L336.15 456.49 L336.28 455.06 L336.52 452.14 L336.60 451.10 L336.76 449.07 L337.01 445.84 L337.06 445.17 L337.25 442.45 L337.50 438.92 L337.51 438.72 L337.74 435.23 L337.96 431.74 L337.99 431.39 L338.23 427.40 L338.42 424.26 L338.48 423.28 L338.72 419.02 L338.87 416.32 L338.96 414.63 L339.21 410.12 L339.32 407.95 L339.45 405.50 L339.70 400.78 L339.78 399.21 L339.94 395.97 L340.19 391.08 L340.23 390.19 L340.43 386.13 L340.67 381.14 L340.68 380.95 L340.92 376.10 L341.14 371.61 L341.16 371.05 L341.41 366.01 L341.59 362.25 L341.65 360.97 L341.75 358.97 L341.90 355.98 L342.04 353.01 L342.14 351.04 L342.38 346.18 L342.50 344.00 L342.63 341.41 L342.87 336.75 L342.95 335.34 L343.12 332.23 L343.36 327.87 L343.40 327.17 L343.61 323.67 L343.85 319.68 L343.86 319.61 M344.31 312.77 L344.34 312.33 L344.58 309.02 L344.76 306.78 L344.83 305.97 L345.07 303.20 L345.21 301.72 L345.32 300.72 L345.56 298.55 L345.67 297.70 L345.81 296.69 L346.05 295.16 L346.12 294.77 L346.29 293.96 L346.54 293.09 L346.57 293.00 L346.78 292.57 L347.03 292.40 L347.27 292.57 L347.48 293.00 L347.52 293.09 L347.76 293.96 L347.93 294.77 L348.00 295.16 L348.25 296.69 L348.39 297.70 L348.49 298.55 L348.74 300.72 L348.84 301.72 L348.98 303.20 L349.23 305.97 L349.29 306.78 L349.47 309.02 L349.72 312.33 L349.75 312.77 L349.96 315.89 L350.01 316.63 L350.06 317.38 L350.11 318.13 L350.16 318.90 L350.20 319.61 L350.20 319.68 L350.25 320.46 L350.30 321.25 L350.35 322.05 L350.40 322.86 L350.45 323.67 L350.50 324.50 L350.55 325.33 L350.60 326.17 L350.64 327.01 L350.65 327.17 L350.69 327.87 L350.74 328.73 L350.79 329.59 L350.84 330.47 L350.89 331.35 L350.94 332.23 L350.99 333.12 L351.03 334.02 L351.08 334.93 L351.11 335.34 L351.13 335.84 L351.18 336.75 L351.23 337.67 L351.28 338.60 L351.33 339.53 L351.38 340.47 L351.43 341.41 L351.47 342.35 L351.52 343.30 L351.56 344.00 L351.57 344.26 L351.62 345.21 L351.67 346.18 L351.72 347.14 L351.77 348.11 L351.82 349.09 L351.87 350.06 L351.91 351.04 L351.96 352.02 L352.01 353.01 L352.06 354.00 L352.11 354.99 L352.16 355.98 L352.21 356.98 L352.26 357.97 L352.31 358.97 L352.35 359.97 L352.40 360.97 L352.45 361.98 L352.47 362.25 L352.50 362.98 L352.55 363.99 L352.60 365.00 L352.65 366.01 L352.70 367.01 L352.75 368.02 L352.79 369.03 L352.84 370.04 M352.92 371.61 L352.94 372.06 L352.99 373.08 L353.04 374.09 L353.09 375.09 L353.14 376.10 L353.19 377.11 L353.23 378.12 L353.28 379.13 L353.33 380.13 L353.37 380.95 L353.38 381.14 L353.43 382.14 L353.48 383.14 L353.53 384.14 L353.58 385.14 L353.62 386.13 L353.67 387.13 L353.72 388.12 L353.77 389.11 L353.82 390.10 L353.82 390.19 L353.87 391.08 L353.92 392.07 L353.97 393.05 L354.02 394.02 L354.06 395.00 L354.11 395.97 L354.16 396.94 L354.21 397.90 L354.26 398.87 L354.28 399.21 L354.31 399.82 L354.36 400.78 L354.41 401.73 L354.46 402.68 L354.50 403.62 L354.55 404.56 L354.60 405.50 L354.65 406.43 L354.70 407.36 L354.73 407.95 L354.75 408.28 L354.80 409.20 L354.85 410.12 L354.90 411.03 L354.94 411.94 L354.99 412.84 L355.04 413.73 L355.09 414.63 L355.14 415.51 L355.18 416.32 L355.19 416.40 L355.24 417.28 L355.29 418.15 L355.34 419.02 L355.38 419.88 L355.43 420.74 L355.48 421.59 L355.53 422.43 L355.58 423.28 L355.63 424.11 L355.64 424.26 L355.68 424.94 L355.73 425.77 M356.54 423.35 L357.00 420.74 L357.45 418.07 L357.90 415.35 L358.36 412.59 L358.81 409.79 L359.26 406.94 L359.72 404.05 L360.17 401.13 L360.62 398.17 L361.08 395.18 L361.53 392.16 L361.98 389.11 L362.43 386.04 L362.89 382.96 L363.34 379.86 L363.79 376.75 L364.25 373.63 L364.70 370.50 L365.15 367.38 L365.61 364.26 L366.06 361.16 L366.51 358.06 L366.97 354.99 L367.42 351.93 L367.87 348.91 L368.33 345.91 L368.78 342.96 L369.23 340.04 L369.69 337.17 L370.14 334.35 L370.59 331.59 L371.04 328.88 L371.50 326.24 L371.95 323.67 L372.40 321.18 L372.86 318.76 L373.31 316.43 L373.42 315.89 L373.76 314.18 L374.22 312.02 L374.67 309.96 L375.12 307.99 L375.58 306.13 L376.03 304.38 L376.48 302.73 M377.39 299.78 L377.84 298.48 L378.30 297.30 L378.75 296.24 M379.65 294.50 L380.11 293.83 L380.56 293.28 L381.01 292.86 L381.47 292.58 L381.92 292.43 L382.21 292.40 L382.37 292.41 L382.83 292.52 L383.28 292.77 L383.73 293.14 L384.19 293.65 L384.64 294.29 L385.09 295.06 L385.55 295.95 L386.00 296.97 L386.45 298.12 L386.91 299.38 L387.36 300.77 L387.81 302.27 L388.26 303.88 L388.72 305.60 L389.17 307.44 L389.25 307.77 L389.62 309.37 L390.08 311.40 L390.53 313.53 L390.98 315.76 L391.44 318.07 L391.89 320.46 L392.34 322.93 L392.80 325.48 L393.25 328.10 L393.70 330.79 L394.16 333.53 L394.61 336.34 L395.06 339.19 L395.52 342.09 L395.97 345.04 L396.42 348.02 L396.88 351.04 L397.33 354.09 L397.78 357.16 L398.23 360.25 L398.69 363.35 L399.14 366.46 L399.59 369.58 L400.05 372.71 L400.50 375.83 L400.95 378.94 L401.41 382.05 L401.86 385.14 L402.31 388.21 L402.77 391.26 L403.22 394.29 L403.67 397.29 L404.13 400.26 L404.58 403.19 L405.03 406.09 L405.49 408.95 L405.94 411.77 L406.39 414.55 L406.84 417.28 L407.30 419.96 L407.75 422.59 L408.20 425.17 L408.66 427.70 L409.11 430.17 L409.56 432.59 L410.02 434.95 L410.47 437.26 L410.92 439.51 L411.38 441.70 L411.83 443.83 L412.28 445.90 L412.74 447.91 L413.19 449.87 L413.64 451.76 L414.10 453.60 L414.55 455.37 L415.00 457.09 L415.45 458.75 L415.91 460.36 L416.36 461.91 L416.81 463.40 L417.27 464.83 L417.72 466.22 L418.17 467.55 L418.63 468.82 L419.08 470.05 L419.53 471.23 L419.99 472.35 L420.44 473.43 L420.89 474.47 L421.35 475.45 L421.80 476.40 L422.25 477.30 L422.71 478.16 L423.16 478.97 L423.61 479.75 L424.06 480.50 L424.52 481.20 L424.97 481.87 L425.42 482.51 L425.88 483.11 L426.33 483.68 L426.78 484.22 L427.24 484.74 L427.69 485.22 L428.14 485.68 L428.60 486.11 L429.05 486.52 L429.50 486.91 L429.96 487.27 L430.41 487.61 L430.86 487.93 L431.32 488.23 L431.77 488.52 L432.22 488.78 L432.67 489.03 L433.13 489.26 L433.58 489.48 L434.03 489.69 L434.49 489.88 L434.94 490.06 L435.39 490.23 L435.85 490.38 L436.30 490.53 L436.75 490.66 L437.21 490.79 L437.66 490.91 L438.11 491.02 L438.57 491.12 L439.02 491.21 L439.47 491.30 L439.93 491.38 L440.38 491.45 L440.83 491.52 L441.28 491.59 L441.74 491.65 L442.19 491.70 L442.64 491.75 L443.10 491.80 L443.55 491.84 L444.00 491.88 L444.46 491.92" fill="none" stroke="#111" stroke-width="1.00" stroke-linejoin="round" stroke-linecap="butt" stroke-dasharray="0.850 2.210"/>
<path d="M308.51 492.30 L308.96 492.30 L309.42 492.30 L309.87 492.30 L310.32 492.30 L310.77 492.30 L311.23 492.30 L311.68 492.30 L312.13 492.30 L312.59 492.30 L313.04 492.30 L313.49 492.30 L313.95 492.30 L314.40 492.30 L314.85 492.30 L315.31 492.30 L315.76 492.30 L316.21 492.30 L316.67 492.30 L317.12 492.30 L317.57 492.30 L318.03 492.30 L318.48 492.30 L318.93 492.30 L319.38 492.30 L319.84 492.30 L320.29 492.30 L320.74 492.30 L321.20 492.30 L321.65 492.30 L322.10 492.30 L322.56 492.30 L323.01 492.30 L323.46 492.30 L323.92 492.30 L324.37 492.30 L324.82 492.30 L325.28 492.30 L325.73 492.30 L326.18 492.30 L326.50 492.30 L326.64 492.30 L326.75 492.30 L326.99 492.30 L327.09 492.30 L327.24 492.30 L327.48 492.30 L327.54 492.30 L327.72 492.30 L327.97 492.30 L327.99 492.30 L328.21 492.30 L328.45 492.30 L328.46 492.30 L328.70 492.30 L328.90 492.30 L328.95 492.30 L329.19 492.30 L329.35 492.30 L329.43 492.30 L329.68 492.30 L329.81 492.30 L329.92 492.30 L330.17 492.30 L330.26 492.30 L330.41 492.30 L330.66 492.30 L330.71 492.30 L330.90 492.30 L331.14 492.30 L331.17 492.30 L331.39 492.30 L331.62 492.30 L331.63 492.30 L331.88 492.30 L332.07 492.30 L332.12 492.30 L332.37 492.30 L332.53 492.30 L332.61 492.30 L332.86 492.30 L332.98 492.30 L333.10 492.30 L333.34 492.30 L333.43 492.30 L333.59 492.30 L333.83 492.30 L333.89 492.30 L334.08 492.30 L334.32 492.30 L334.34 492.30 L334.57 492.30 L334.79 492.30 L334.81 492.30 L335.05 492.30 L335.25 492.30 L335.30 492.30 L335.54 492.30 L335.70 492.30 L335.79 492.30 L336.03 492.30 L336.15 492.30 L336.28 492.30 L336.52 492.30 L336.60 492.30 L336.76 492.30 L337.01 492.30 L337.06 492.30 L337.25 492.30 L337.50 492.30 L337.51 492.30 L337.74 492.30 L337.96 492.30 L337.99 492.30 L338.23 492.30 L338.42 492.30 L338.48 492.30 L338.72 492.30 L338.87 492.30 L338.96 492.30 L339.21 492.30 L339.32 492.30 L339.45 492.30 L339.70 492.30 L339.78 492.30 L339.94 492.30 L340.19 492.30 L340.23 492.30 L340.43 492.30 L340.67 492.30 L340.68 492.30 L340.92 492.30 L341.14 492.30 L341.16 492.30 L341.41 492.30 L341.59 492.30 L341.65 492.30 L341.75 492.30 L341.90 492.30 L342.04 492.30 L342.14 492.30 L342.38 492.30 L342.50 492.30 L342.63 492.30 L342.87 492.30 L342.95 492.30 L343.12 492.30 L343.36 492.30 L343.40 492.30 L343.61 492.30 L343.85 492.30 L343.86 492.30 L344.10 492.30 L344.31 492.30 L344.34 492.30 L344.58 492.30 L344.76 492.30 L344.83 492.30 L345.07 492.30 L345.21 492.30 L345.32 492.30 L345.56 492.30 L345.67 492.30 L345.81 492.30 L346.05 492.30 L346.12 492.30 L346.29 492.30 L346.54 492.30 L346.57 492.30 L346.78 492.30 L347.03 492.30 L347.27 492.30 L347.48 492.30 L347.52 492.30 L347.76 492.30 L347.93 492.30 L348.00 492.30 L348.25 492.30 L348.39 492.30 L348.49 492.30 L348.74 492.29 L348.84 492.29 L348.98 492.28 L349.23 492.26 L349.29 492.25 L349.47 492.21 L349.72 492.09 L349.75 492.07 L349.96 491.86 L350.01 491.79 L350.06 491.72 L350.11 491.63 L350.16 491.53 L350.20 491.42 L350.20 491.41 L350.25 491.28 L350.30 491.14 L350.35 490.97 L350.40 490.79 L350.45 490.58 L350.50 490.34 L350.55 490.08 L350.60 489.79 L350.64 489.46 L350.65 489.40 L350.69 489.09 L350.74 488.69 L350.79 488.24 L350.84 487.74 L350.89 487.19 L350.94 486.59 L350.99 485.92 L351.03 485.19 L351.08 484.39 L351.11 484.00 L351.13 483.52 L351.18 482.56 L351.23 481.52 L351.28 480.39 L351.33 479.16 L351.38 477.83 L351.43 476.40 L351.47 474.85 L351.52 473.18 L351.56 471.89 L351.57 471.39 L351.62 469.48 L351.67 467.43 L351.72 465.25 L351.77 462.92 L351.82 460.45 L351.87 457.83 L351.91 455.06 L351.96 452.14 L352.01 449.07 L352.06 445.84 L352.11 442.45 L352.16 438.92 L352.21 435.23 L352.26 431.39 L352.31 427.40 L352.35 423.28 L352.40 419.02 L352.45 414.63 L352.47 413.41 L352.50 410.12 L352.55 405.50 L352.60 400.78 L352.65 395.97 M352.75 386.13 L352.79 381.14 L352.84 376.10 L352.89 371.05 L352.92 368.30 L352.94 366.01 L352.99 360.97 L353.04 355.98 L353.09 351.04 L353.14 346.18 L353.19 341.41 L353.23 336.75 L353.28 332.23 L353.33 327.87 L353.37 324.42 L353.38 323.67 L353.43 319.68 L353.48 315.89 L353.53 312.33 L353.58 309.02 L353.62 305.97 L353.67 303.20 L353.72 300.72 L353.77 298.55 L353.82 296.69 L353.82 296.54 L353.87 295.16 L353.92 293.96 L353.97 293.09 L354.02 292.57 L354.06 292.40 L354.11 292.57 L354.16 293.09 L354.21 293.96 L354.26 295.16 L354.28 295.68 L354.31 296.69 L354.36 298.55 L354.41 300.72 L354.46 303.20 L354.50 305.97 L354.55 309.02 L354.60 312.33 L354.65 315.89 L354.70 319.68 L354.73 322.20 L354.75 323.67 L354.80 327.87 L354.85 332.23 L354.90 336.75 L354.94 341.41 L354.99 346.18 L355.04 351.04 L355.09 355.98 L355.14 360.97 L355.18 365.55 L355.19 366.01 L355.24 371.05 L355.29 376.10 L355.34 381.14 L355.38 386.13 L355.43 391.08 L355.48 395.97 L355.53 400.78 L355.58 405.50 L355.63 410.12 L355.64 410.95 L355.68 414.63 L355.73 419.02 L355.78 423.28 M356.09 426.23 L356.54 424.22 L357.00 422.17 L357.45 420.09 L357.90 417.98 L358.36 415.84 L358.81 413.67 L359.26 411.47 L359.72 409.24 L360.17 406.99 L360.62 404.72 L361.08 402.42 L361.53 400.09 L361.98 397.75 L362.43 395.39 L362.89 393.01 L363.34 390.61 L363.79 388.20 L364.25 385.78 L364.70 383.34 L365.15 380.90 L365.61 378.44 L366.06 375.98 L366.51 373.52 L366.97 371.05 L367.42 368.59 L367.87 366.13 L368.33 363.67 L368.78 361.21 L369.23 358.77 L369.69 356.34 L370.14 353.92 L370.59 351.51 L371.04 349.12 L371.50 346.75 L371.95 344.41 L372.40 342.09 L372.86 339.79 L373.31 337.52 L373.42 336.99 L373.76 335.29 L374.22 333.09 L374.67 330.92 L375.12 328.79 L375.58 326.71 L376.03 324.66 L376.48 322.66 L376.94 320.71 L377.39 318.81 L377.84 316.95 L378.30 315.15 L378.75 313.41 L379.20 311.73 L379.65 310.10 L380.11 308.54 L380.56 307.04 L381.01 305.60 L381.47 304.23 L381.92 302.93 L382.21 302.12 L382.37 301.70 L382.83 300.54 L383.28 299.45 L383.73 298.43 L384.19 297.50 L384.64 296.63 L385.09 295.85 L385.55 295.14 L386.00 294.52 L386.45 293.97 L386.91 293.50 L387.36 293.12 L387.81 292.82 L388.26 292.60 L388.72 292.46 L389.17 292.40 L389.25 292.40 L389.62 292.43 L390.08 292.54 L390.53 292.73 L390.98 293.00 L391.44 293.36 L391.89 293.80 L392.34 294.32 L392.80 294.91 L393.25 295.59 L393.70 296.35 L394.16 297.18 L394.61 298.10 L395.06 299.08 L395.52 300.14 L395.97 301.28 L396.42 302.49 L396.88 303.76 L397.33 305.11 L397.78 306.52 L398.23 308.00 L398.69 309.54 L399.14 311.15 L399.59 312.81 L400.05 314.53 L400.50 316.31 L400.95 318.15 L401.41 320.03 L401.86 321.97 L402.31 323.95 L402.77 325.98 L403.22 328.05 L403.67 330.17 L404.13 332.32 L404.58 334.51 L405.03 336.73 L405.49 338.99 L405.94 341.27 L406.39 343.59 L406.84 345.92 L407.30 348.28 L407.75 350.67 L408.20 353.07 L408.66 355.48 L409.11 357.91 L409.56 360.35 L410.02 362.80 L410.47 365.26 L410.92 367.72 L411.38 370.18 L411.83 372.65 L412.28 375.11 L412.74 377.57 L413.19 380.03 L413.64 382.48 L414.10 384.92 L414.55 387.35 L415.00 389.76 L415.45 392.16 L415.91 394.55 L416.36 396.92 L416.81 399.27 L417.27 401.60 L417.72 403.91 L418.17 406.19 L418.63 408.45 L419.08 410.69 L419.53 412.89 L419.99 415.07 L420.44 417.23 L420.89 419.35 L421.35 421.44 L421.80 423.50 L422.25 425.52 L422.71 427.52 L423.16 429.48 L423.61 431.41 L424.06 433.30 L424.52 435.15 L424.97 436.98 L425.42 438.76 L425.88 440.51 L426.33 442.22 L426.78 443.90 L427.24 445.54 L427.69 447.14 L428.14 448.71 L428.60 450.23 L429.05 451.73 L429.50 453.18 L429.96 454.60 L430.41 455.98 L430.86 457.33 L431.32 458.64 L431.77 459.91 L432.22 461.15 L432.67 462.35 L433.13 463.52 L433.58 464.66 L434.03 465.76 L434.49 466.83 L434.94 467.86 L435.39 468.87 L435.85 469.84 L436.30 470.78 L436.75 471.69 L437.21 472.56 L437.66 473.41 L438.11 474.23 L438.57 475.02 L439.02 475.79 L439.47 476.52 L439.93 477.23 L440.38 477.92 L440.83 478.58 L441.28 479.21 L441.74 479.82 L442.19 480.41 L442.64 480.97 L443.10 481.51 L443.55 482.03 L444.00 482.53 L444.46 483.01 L444.91 483.46 L445.36 483.90 L445.82 484.32 L446.27 484.73 L446.72 485.11 L447.18 485.48 L447.63 485.83 L448.08 486.17 L448.54 486.49 L448.99 486.80 L449.44 487.09 L449.89 487.37 L450.35 487.64 L450.80 487.89 L451.25 488.13 L451.71 488.36 L452.16 488.58 L452.61 488.79 L453.07 488.99 L453.52 489.18 L453.97 489.35 L454.43 489.52 L454.88 489.68 L455.33 489.84 L455.79 489.98 L456.24 490.12 L456.69 490.25 L457.15 490.37 L457.60 490.49 L458.05 490.60 L458.50 490.70 L458.96 490.80 L459.41 490.89 L459.86 490.98 L460.32 491.06 L460.77 491.14 L461.22 491.21 L461.68 491.28 L462.13 491.35 L462.58 491.41 L463.04 491.47 L463.49 491.52 L463.94 491.57 L464.40 491.62 L464.85 491.67 L465.30 491.71 L465.76 491.75 L466.21 491.79 L466.66 491.82 L467.11 491.85 L467.57 491.88 L468.02 491.91 L468.47 491.94" fill="none" stroke="#111" stroke-width="1.10" stroke-linejoin="round" stroke-linecap="butt" stroke-dasharray="1.000 2.060 3.400 1.955"/>
<rect x="289.20" y="284.40" width="215.35" height="215.90" fill="none" stroke="#3a3a3a" stroke-width="0.80" stroke-linejoin="round"/>
<path d="M297.18 500.30 v3.50 M355.82 500.30 v3.50 M414.47 500.30 v3.50 M473.11 500.30 v3.50 M289.20 492.30 h-3.50 M289.20 445.54 h-3.50 M289.20 398.78 h-3.50 M289.20 352.02 h-3.50 M289.20 305.26 h-3.50" stroke="#3a3a3a" stroke-width="0.80" fill="none"/>
<g font-family="'Liberation Sans', Arial, sans-serif" font-size="8.10" fill="#1a1a1a" stroke="#1a1a1a" stroke-width="0.2">
<text transform="translate(297.18 513.55) scale(1 1.1)" text-anchor="middle">−5</text>
<text transform="translate(355.82 513.55) scale(1 1.1)" text-anchor="middle">0</text>
<text transform="translate(414.47 513.55) scale(1 1.1)" text-anchor="middle">5</text>
<text transform="translate(473.11 513.55) scale(1 1.1)" text-anchor="middle">10</text>
<text transform="translate(282.20 495.15) scale(1 1.1)" text-anchor="end">0.00</text>
<text transform="translate(282.20 448.39) scale(1 1.1)" text-anchor="end">0.05</text>
<text transform="translate(282.20 401.63) scale(1 1.1)" text-anchor="end">0.10</text>
<text transform="translate(282.20 354.87) scale(1 1.1)" text-anchor="end">0.15</text>
<text transform="translate(282.20 308.11) scale(1 1.1)" text-anchor="end">0.20</text>
<text x="396.88" y="527.70" text-anchor="middle" font-size="8.8">x</text>
<text transform="translate(266.50 392.15) rotate(-90)" text-anchor="middle" font-size="9.1">pdf</text>
</g>
<path d="M422.70 298.70 H445.40" stroke="#111" stroke-width="1.15" fill="none"/>
<text font-family="'Liberation Sans', Arial, sans-serif" font-size="12" fill="#1a1a1a" stroke="#1a1a1a" stroke-width="0.22"><tspan x="455.90" y="303.10" font-family="'Liberation Serif', 'DejaVu Serif', serif" font-size="13" stroke-width="0.3">ε</tspan> <tspan x="463.50" y="303.25" font-size="10.4" textLength="7.3" lengthAdjust="spacingAndGlyphs" stroke="none" fill="#2a2a2a">=</tspan> <tspan x="473.00" y="303.00">0.0</tspan></text>
<path d="M422.70 313.20 H445.40" stroke="#111" stroke-width="1.20" fill="none" stroke-dasharray="3.400 2.720"/>
<text font-family="'Liberation Sans', Arial, sans-serif" font-size="12" fill="#1a1a1a" stroke="#1a1a1a" stroke-width="0.22"><tspan x="455.90" y="317.60" font-family="'Liberation Serif', 'DejaVu Serif', serif" font-size="13" stroke-width="0.3">ε</tspan> <tspan x="463.50" y="317.75" font-size="10.4" textLength="7.3" lengthAdjust="spacingAndGlyphs" stroke="none" fill="#2a2a2a">=</tspan> <tspan x="472.50" y="318.40" font-size="13.5" stroke="none" fill="#2a2a2a">−</tspan><tspan x="481.80" y="317.50">0.2</tspan></text>
<path d="M422.70 327.70 H445.40" stroke="#111" stroke-width="1.00" fill="none" stroke-dasharray="0.850 2.210"/>
<text font-family="'Liberation Sans', Arial, sans-serif" font-size="12" fill="#1a1a1a" stroke="#1a1a1a" stroke-width="0.22"><tspan x="455.90" y="332.10" font-family="'Liberation Serif', 'DejaVu Serif', serif" font-size="13" stroke-width="0.3">ε</tspan> <tspan x="463.50" y="332.25" font-size="10.4" textLength="7.3" lengthAdjust="spacingAndGlyphs" stroke="none" fill="#2a2a2a">=</tspan> <tspan x="472.50" y="332.90" font-size="13.5" stroke="none" fill="#2a2a2a">−</tspan><tspan x="481.80" y="332.00">0.5</tspan></text>
<path d="M422.70 342.20 H445.40" stroke="#111" stroke-width="1.10" fill="none" stroke-dasharray="1.000 2.060 3.400 1.955"/>
<text font-family="'Liberation Sans', Arial, sans-serif" font-size="12" fill="#1a1a1a" stroke="#1a1a1a" stroke-width="0.22"><tspan x="455.90" y="346.60" font-family="'Liberation Serif', 'DejaVu Serif', serif" font-size="13" stroke-width="0.3">ε</tspan> <tspan x="463.50" y="346.75" font-size="10.4" textLength="7.3" lengthAdjust="spacingAndGlyphs" stroke="none" fill="#2a2a2a">=</tspan> <tspan x="472.50" y="347.40" font-size="13.5" stroke="none" fill="#2a2a2a">−</tspan><tspan x="481.80" y="346.50">0.9</tspan></text>
<text font-family="'Liberation Serif', serif" fill="#111" font-size="11.5"><tspan x="372.75" y="545.10">(</tspan><tspan x="376.15" y="545.60" font-size="12.3" font-weight="bold">d</tspan><tspan x="387.10" y="545.10" text-anchor="end">)</tspan></text>
</g>
</svg>
</body></html>
